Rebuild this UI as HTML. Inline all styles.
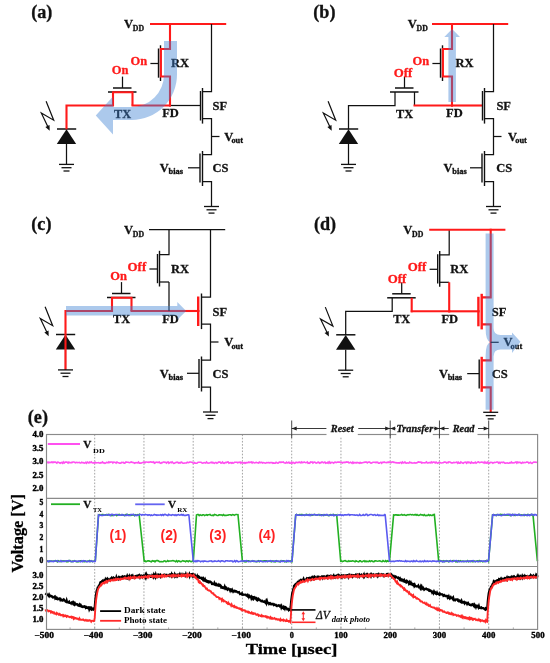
<!DOCTYPE html>
<html><head><meta charset="utf-8"><title>Pixel operation</title>
<style>html,body{margin:0;padding:0;background:#fff;}svg{display:block;}</style></head>
<body><svg width="550" height="663" viewBox="0 0 550 663">
<rect width="550" height="663" fill="#fff"/>
<text x="31.2" y="18.2" font-family="'Liberation Serif','DejaVu Serif',serif" font-size="18.2" font-weight="bold" font-style="normal" fill="#111" text-anchor="start" stroke="#111" stroke-width="0.3">(a)</text>
<text x="313.3" y="18.2" font-family="'Liberation Serif','DejaVu Serif',serif" font-size="18.2" font-weight="bold" font-style="normal" fill="#111" text-anchor="start" stroke="#111" stroke-width="0.3">(b)</text>
<text x="31.3" y="230.3" font-family="'Liberation Serif','DejaVu Serif',serif" font-size="18.2" font-weight="bold" font-style="normal" fill="#111" text-anchor="start" stroke="#111" stroke-width="0.3">(c)</text>
<text x="313.9" y="230.3" font-family="'Liberation Serif','DejaVu Serif',serif" font-size="18.2" font-weight="bold" font-style="normal" fill="#111" text-anchor="start" stroke="#111" stroke-width="0.3">(d)</text>
<text x="27.8" y="422.8" font-family="'Liberation Serif','DejaVu Serif',serif" font-size="18.2" font-weight="bold" font-style="normal" fill="#111" text-anchor="start" stroke="#111" stroke-width="0.3">(e)</text>
<text x="124" y="28.2" font-family="'Liberation Serif','DejaVu Serif',serif" font-size="12.6" font-weight="bold" font-style="normal" fill="#111" text-anchor="start" stroke="#111" stroke-width="0.3">V</text>
<text x="132.8" y="31.4" font-family="'Liberation Serif','DejaVu Serif',serif" font-size="7.8" font-weight="bold" font-style="normal" fill="#111" text-anchor="start" stroke="#111" stroke-width="0.3">DD</text>
<polyline points="46.1,101.3 53.7,120.2 41.3,113.1 48.6,128.3" fill="none" stroke="#111" stroke-width="1.2" stroke-linejoin="miter"/>
<polygon points="49.7,130.8 45.38,127.11 49.52,125.12" fill="#111"/>
<polygon points="66.5,129.2 56.8,143.9 76.2,143.9" fill="#111"/>
<line x1="57" y1="129" x2="76.2" y2="129" stroke="#111" stroke-width="1.5"/>
<line x1="66.5" y1="143.9" x2="66.5" y2="164.4" stroke="#111" stroke-width="1.25"/>
<line x1="59" y1="164.4" x2="74" y2="164.4" stroke="#111" stroke-width="1.3"/>
<line x1="61.5" y1="167.7" x2="71.5" y2="167.7" stroke="#111" stroke-width="1.3"/>
<line x1="63.5" y1="171" x2="69.5" y2="171" stroke="#111" stroke-width="1.3"/>
<line x1="122.5" y1="76.6" x2="122.5" y2="88" stroke="#111" stroke-width="1.25"/>
<line x1="113" y1="88" x2="131.5" y2="88" stroke="#111" stroke-width="1.5"/>
<line x1="108" y1="92" x2="136.5" y2="92" stroke="#111" stroke-width="1.5"/>
<polyline points="66.5,129.2 66.5,105.5 113,105.5 113,92.2 132.5,92.2 132.5,105.5" fill="none" stroke="#ff1a1a" stroke-width="2.1" stroke-linejoin="miter"/>
<line x1="131.5" y1="105.5" x2="171" y2="105.5" stroke="#ff1a1a" stroke-width="2.1"/>
<line x1="169" y1="105.5" x2="200.5" y2="105.5" stroke="#111" stroke-width="1.25"/>
<line x1="150.4" y1="63.5" x2="158.5" y2="63.5" stroke="#111" stroke-width="1.25"/>
<line x1="158.5" y1="48.5" x2="158.5" y2="77.7" stroke="#111" stroke-width="1.4"/>
<line x1="160.5" y1="45.3" x2="160.5" y2="81" stroke="#111" stroke-width="1.4"/>
<polyline points="170,23 170,49 160.9,49 160.9,76.5 170,76.5 170,106.5" fill="none" stroke="#ff1a1a" stroke-width="2.1" stroke-linejoin="miter"/>
<line x1="150" y1="24" x2="226.2" y2="24" stroke="#ff1a1a" stroke-width="2.1"/>
<line x1="200.5" y1="91" x2="200.5" y2="120.5" stroke="#111" stroke-width="1.4"/>
<line x1="202.5" y1="88" x2="202.5" y2="123.6" stroke="#111" stroke-width="1.4"/>
<polyline points="211.5,24 211.5,91.6 202.5,91.6" fill="none" stroke="#111" stroke-width="1.25" stroke-linejoin="miter"/>
<polyline points="202.5,118.6 211.5,118.6 211.5,154.6 202.5,154.6" fill="none" stroke="#111" stroke-width="1.25" stroke-linejoin="miter"/>
<polyline points="202.5,181.6 211.5,181.6 211.5,206.5" fill="none" stroke="#111" stroke-width="1.25" stroke-linejoin="miter"/>
<line x1="202.5" y1="151" x2="202.5" y2="186" stroke="#111" stroke-width="1.4"/>
<line x1="211.5" y1="136.5" x2="219.5" y2="136.5" stroke="#111" stroke-width="1.25"/>
<line x1="188" y1="167.8" x2="200" y2="167.8" stroke="#111" stroke-width="1.25"/>
<line x1="200" y1="153.6" x2="200" y2="182.6" stroke="#111" stroke-width="1.4"/>
<line x1="204" y1="206.5" x2="219" y2="206.5" stroke="#111" stroke-width="1.3"/>
<line x1="206.5" y1="209.8" x2="216.5" y2="209.8" stroke="#111" stroke-width="1.3"/>
<line x1="208.5" y1="213.1" x2="214.5" y2="213.1" stroke="#111" stroke-width="1.3"/>
<text x="224.2" y="140.5" font-family="'Liberation Serif','DejaVu Serif',serif" font-size="12.4" font-weight="bold" font-style="normal" fill="#111" text-anchor="start" stroke="#111" stroke-width="0.3">V</text>
<text x="231.4" y="143.1" font-family="'Liberation Serif','DejaVu Serif',serif" font-size="8.4" font-weight="bold" font-style="normal" fill="#111" text-anchor="start" stroke="#111" stroke-width="0.3">out</text>
<text x="159.8" y="172.2" font-family="'Liberation Serif','DejaVu Serif',serif" font-size="12.4" font-weight="bold" font-style="normal" fill="#111" text-anchor="start" stroke="#111" stroke-width="0.3">V</text>
<text x="168.5" y="174.4" font-family="'Liberation Serif','DejaVu Serif',serif" font-size="8.4" font-weight="bold" font-style="normal" fill="#111" text-anchor="start" stroke="#111" stroke-width="0.3">bias</text>
<text x="212.5" y="172.2" font-family="'Liberation Serif','DejaVu Serif',serif" font-size="12.5" font-weight="bold" font-style="normal" fill="#111" text-anchor="start" stroke="#111" stroke-width="0.3">CS</text>
<text x="212.6" y="110.2" font-family="'Liberation Serif','DejaVu Serif',serif" font-size="12.5" font-weight="bold" font-style="normal" fill="#111" text-anchor="start" stroke="#111" stroke-width="0.3">SF</text>
<text x="162.2" y="117.4" font-family="'Liberation Serif','DejaVu Serif',serif" font-size="12.5" font-weight="bold" font-style="normal" fill="#111" text-anchor="start" stroke="#111" stroke-width="0.3">FD</text>
<text x="122.5" y="117.6" font-family="'Liberation Serif','DejaVu Serif',serif" font-size="12.3" font-weight="bold" font-style="normal" fill="#111" text-anchor="middle" stroke="#111" stroke-width="0.3">TX</text>
<text x="171" y="67.4" font-family="'Liberation Serif','DejaVu Serif',serif" font-size="12.5" font-weight="bold" font-style="normal" fill="#111" text-anchor="start" stroke="#111" stroke-width="0.3">RX</text>
<text x="120.1" y="74.1" font-family="'Liberation Serif','DejaVu Serif',serif" font-size="12.5" font-weight="bold" font-style="normal" fill="#ff1a1a" text-anchor="middle" stroke="#ff1a1a" stroke-width="0.3">On</text>
<text x="147.2" y="65.1" font-family="'Liberation Serif','DejaVu Serif',serif" font-size="12.5" font-weight="bold" font-style="normal" fill="#ff1a1a" text-anchor="end" stroke="#ff1a1a" stroke-width="0.3">On</text>
<text x="407.8" y="28.2" font-family="'Liberation Serif','DejaVu Serif',serif" font-size="12.6" font-weight="bold" font-style="normal" fill="#111" text-anchor="start" stroke="#111" stroke-width="0.3">V</text>
<text x="416.6" y="31.4" font-family="'Liberation Serif','DejaVu Serif',serif" font-size="7.8" font-weight="bold" font-style="normal" fill="#111" text-anchor="start" stroke="#111" stroke-width="0.3">DD</text>
<polyline points="328.1,101.3 335.7,120.2 323.3,113.1 330.6,128.3" fill="none" stroke="#111" stroke-width="1.2" stroke-linejoin="miter"/>
<polygon points="331.7,130.8 327.38,127.11 331.52,125.12" fill="#111"/>
<polygon points="348.5,129.2 338.8,143.9 358.2,143.9" fill="#111"/>
<line x1="339" y1="129" x2="358.2" y2="129" stroke="#111" stroke-width="1.5"/>
<line x1="348.5" y1="143.9" x2="348.5" y2="164.4" stroke="#111" stroke-width="1.25"/>
<line x1="341" y1="164.4" x2="356" y2="164.4" stroke="#111" stroke-width="1.3"/>
<line x1="343.5" y1="167.7" x2="353.5" y2="167.7" stroke="#111" stroke-width="1.3"/>
<line x1="345.5" y1="171" x2="351.5" y2="171" stroke="#111" stroke-width="1.3"/>
<line x1="404.5" y1="76.6" x2="404.5" y2="88" stroke="#111" stroke-width="1.25"/>
<line x1="395" y1="88" x2="413.5" y2="88" stroke="#111" stroke-width="1.5"/>
<line x1="390" y1="92" x2="418.5" y2="92" stroke="#111" stroke-width="1.5"/>
<polyline points="348.5,129.2 348.5,105.5 395,105.5 395,92" fill="none" stroke="#111" stroke-width="1.25" stroke-linejoin="miter"/>
<line x1="414.5" y1="92" x2="414.5" y2="105.5" stroke="#111" stroke-width="1.25"/>
<line x1="413.5" y1="105.5" x2="453" y2="105.5" stroke="#ff1a1a" stroke-width="2.1"/>
<line x1="451" y1="105.5" x2="482.5" y2="105.5" stroke="#ff1a1a" stroke-width="2.1"/>
<line x1="432.4" y1="63.5" x2="440.5" y2="63.5" stroke="#111" stroke-width="1.25"/>
<line x1="440.5" y1="48.5" x2="440.5" y2="77.7" stroke="#111" stroke-width="1.4"/>
<line x1="442.5" y1="45.3" x2="442.5" y2="81" stroke="#111" stroke-width="1.4"/>
<polyline points="452,23 452,49 442.9,49 442.9,76.5 452,76.5 452,106.5" fill="none" stroke="#ff1a1a" stroke-width="2.1" stroke-linejoin="miter"/>
<line x1="432" y1="24" x2="508.2" y2="24" stroke="#ff1a1a" stroke-width="2.1"/>
<line x1="482.5" y1="91" x2="482.5" y2="120.5" stroke="#111" stroke-width="1.4"/>
<line x1="484.5" y1="88" x2="484.5" y2="123.6" stroke="#111" stroke-width="1.4"/>
<polyline points="493.5,24 493.5,91.6 484.5,91.6" fill="none" stroke="#111" stroke-width="1.25" stroke-linejoin="miter"/>
<polyline points="484.5,118.6 493.5,118.6 493.5,154.6 484.5,154.6" fill="none" stroke="#111" stroke-width="1.25" stroke-linejoin="miter"/>
<polyline points="484.5,181.6 493.5,181.6 493.5,206.5" fill="none" stroke="#111" stroke-width="1.25" stroke-linejoin="miter"/>
<line x1="484.5" y1="151" x2="484.5" y2="186" stroke="#111" stroke-width="1.4"/>
<line x1="493.5" y1="136.5" x2="501.5" y2="136.5" stroke="#111" stroke-width="1.25"/>
<line x1="470" y1="167.8" x2="482" y2="167.8" stroke="#111" stroke-width="1.25"/>
<line x1="482" y1="153.6" x2="482" y2="182.6" stroke="#111" stroke-width="1.4"/>
<line x1="486" y1="206.5" x2="501" y2="206.5" stroke="#111" stroke-width="1.3"/>
<line x1="488.5" y1="209.8" x2="498.5" y2="209.8" stroke="#111" stroke-width="1.3"/>
<line x1="490.5" y1="213.1" x2="496.5" y2="213.1" stroke="#111" stroke-width="1.3"/>
<text x="508" y="140.5" font-family="'Liberation Serif','DejaVu Serif',serif" font-size="12.4" font-weight="bold" font-style="normal" fill="#111" text-anchor="start" stroke="#111" stroke-width="0.3">V</text>
<text x="515.2" y="143.1" font-family="'Liberation Serif','DejaVu Serif',serif" font-size="8.4" font-weight="bold" font-style="normal" fill="#111" text-anchor="start" stroke="#111" stroke-width="0.3">out</text>
<text x="443.6" y="172.2" font-family="'Liberation Serif','DejaVu Serif',serif" font-size="12.4" font-weight="bold" font-style="normal" fill="#111" text-anchor="start" stroke="#111" stroke-width="0.3">V</text>
<text x="452.3" y="174.4" font-family="'Liberation Serif','DejaVu Serif',serif" font-size="8.4" font-weight="bold" font-style="normal" fill="#111" text-anchor="start" stroke="#111" stroke-width="0.3">bias</text>
<text x="496.3" y="172.2" font-family="'Liberation Serif','DejaVu Serif',serif" font-size="12.5" font-weight="bold" font-style="normal" fill="#111" text-anchor="start" stroke="#111" stroke-width="0.3">CS</text>
<text x="496.4" y="110.2" font-family="'Liberation Serif','DejaVu Serif',serif" font-size="12.5" font-weight="bold" font-style="normal" fill="#111" text-anchor="start" stroke="#111" stroke-width="0.3">SF</text>
<text x="446" y="117.4" font-family="'Liberation Serif','DejaVu Serif',serif" font-size="12.5" font-weight="bold" font-style="normal" fill="#111" text-anchor="start" stroke="#111" stroke-width="0.3">FD</text>
<text x="404.5" y="117.6" font-family="'Liberation Serif','DejaVu Serif',serif" font-size="12.3" font-weight="bold" font-style="normal" fill="#111" text-anchor="middle" stroke="#111" stroke-width="0.3">TX</text>
<text x="455.5" y="67.4" font-family="'Liberation Serif','DejaVu Serif',serif" font-size="12.5" font-weight="bold" font-style="normal" fill="#111" text-anchor="start" stroke="#111" stroke-width="0.3">RX</text>
<text x="403" y="76.7" font-family="'Liberation Serif','DejaVu Serif',serif" font-size="12.9" font-weight="bold" font-style="normal" fill="#ff1a1a" text-anchor="middle" stroke="#ff1a1a" stroke-width="0.3">Off</text>
<text x="429.2" y="65.1" font-family="'Liberation Serif','DejaVu Serif',serif" font-size="12.5" font-weight="bold" font-style="normal" fill="#ff1a1a" text-anchor="end" stroke="#ff1a1a" stroke-width="0.3">On</text>
<text x="124" y="233.7" font-family="'Liberation Serif','DejaVu Serif',serif" font-size="12.6" font-weight="bold" font-style="normal" fill="#111" text-anchor="start" stroke="#111" stroke-width="0.3">V</text>
<text x="132.8" y="236.9" font-family="'Liberation Serif','DejaVu Serif',serif" font-size="7.8" font-weight="bold" font-style="normal" fill="#111" text-anchor="start" stroke="#111" stroke-width="0.3">DD</text>
<polyline points="45.1,306.8 52.7,325.7 40.3,318.6 47.6,333.8" fill="none" stroke="#111" stroke-width="1.2" stroke-linejoin="miter"/>
<polygon points="48.7,336.3 44.38,332.61 48.52,330.62" fill="#111"/>
<polygon points="65.5,334.7 55.8,349.4 75.2,349.4" fill="#111"/>
<line x1="56" y1="334.5" x2="75.2" y2="334.5" stroke="#111" stroke-width="1.5"/>
<line x1="65.5" y1="349.4" x2="65.5" y2="369.9" stroke="#111" stroke-width="1.25"/>
<line x1="65.5" y1="334.5" x2="65.5" y2="369.9" stroke="#ff1a1a" stroke-width="2.1"/>
<line x1="58" y1="369.9" x2="73" y2="369.9" stroke="#111" stroke-width="1.3"/>
<line x1="60.5" y1="373.2" x2="70.5" y2="373.2" stroke="#111" stroke-width="1.3"/>
<line x1="62.5" y1="376.5" x2="68.5" y2="376.5" stroke="#111" stroke-width="1.3"/>
<line x1="121.5" y1="282.1" x2="121.5" y2="293.5" stroke="#111" stroke-width="1.25"/>
<line x1="112" y1="293.5" x2="130.5" y2="293.5" stroke="#111" stroke-width="1.5"/>
<line x1="107" y1="297.5" x2="135.5" y2="297.5" stroke="#111" stroke-width="1.5"/>
<polyline points="65.5,334.7 65.5,311 112,311 112,297.7 131.5,297.7 131.5,311" fill="none" stroke="#ff1a1a" stroke-width="2.1" stroke-linejoin="miter"/>
<line x1="130.5" y1="311" x2="170" y2="311" stroke="#ff1a1a" stroke-width="2.1"/>
<line x1="168" y1="311" x2="199.5" y2="311" stroke="#ff1a1a" stroke-width="2.1"/>
<line x1="149.4" y1="269" x2="157.5" y2="269" stroke="#111" stroke-width="1.25"/>
<line x1="157.5" y1="254" x2="157.5" y2="283.2" stroke="#111" stroke-width="1.4"/>
<line x1="159.5" y1="250.8" x2="159.5" y2="286.5" stroke="#111" stroke-width="1.4"/>
<polyline points="169,229.5 169,254.5 159.5,254.5" fill="none" stroke="#111" stroke-width="1.25" stroke-linejoin="miter"/>
<polyline points="159.5,282 169,282" fill="none" stroke="#111" stroke-width="1.25" stroke-linejoin="miter"/>
<line x1="169" y1="282" x2="169" y2="311" stroke="#111" stroke-width="1.25"/>
<line x1="149" y1="229.5" x2="225.2" y2="229.5" stroke="#111" stroke-width="1.25"/>
<line x1="198.2" y1="296.5" x2="198.2" y2="326" stroke="#ff1a1a" stroke-width="2.4"/>
<line x1="201.5" y1="293.5" x2="201.5" y2="329.1" stroke="#111" stroke-width="1.4"/>
<polyline points="210.5,229.5 210.5,297.1 201.5,297.1" fill="none" stroke="#111" stroke-width="1.25" stroke-linejoin="miter"/>
<polyline points="201.5,324.1 210.5,324.1 210.5,360.1 201.5,360.1" fill="none" stroke="#111" stroke-width="1.25" stroke-linejoin="miter"/>
<polyline points="201.5,387.1 210.5,387.1 210.5,412" fill="none" stroke="#111" stroke-width="1.25" stroke-linejoin="miter"/>
<line x1="201.5" y1="356.5" x2="201.5" y2="391.5" stroke="#111" stroke-width="1.4"/>
<line x1="210.5" y1="342" x2="218.5" y2="342" stroke="#111" stroke-width="1.25"/>
<line x1="187" y1="373.3" x2="199" y2="373.3" stroke="#111" stroke-width="1.25"/>
<line x1="199" y1="359.1" x2="199" y2="388.1" stroke="#111" stroke-width="1.4"/>
<line x1="203" y1="412" x2="218" y2="412" stroke="#111" stroke-width="1.3"/>
<line x1="205.5" y1="415.3" x2="215.5" y2="415.3" stroke="#111" stroke-width="1.3"/>
<line x1="207.5" y1="418.6" x2="213.5" y2="418.6" stroke="#111" stroke-width="1.3"/>
<text x="224.2" y="346" font-family="'Liberation Serif','DejaVu Serif',serif" font-size="12.4" font-weight="bold" font-style="normal" fill="#111" text-anchor="start" stroke="#111" stroke-width="0.3">V</text>
<text x="231.4" y="348.6" font-family="'Liberation Serif','DejaVu Serif',serif" font-size="8.4" font-weight="bold" font-style="normal" fill="#111" text-anchor="start" stroke="#111" stroke-width="0.3">out</text>
<text x="159.8" y="377.7" font-family="'Liberation Serif','DejaVu Serif',serif" font-size="12.4" font-weight="bold" font-style="normal" fill="#111" text-anchor="start" stroke="#111" stroke-width="0.3">V</text>
<text x="168.5" y="379.9" font-family="'Liberation Serif','DejaVu Serif',serif" font-size="8.4" font-weight="bold" font-style="normal" fill="#111" text-anchor="start" stroke="#111" stroke-width="0.3">bias</text>
<text x="212.5" y="377.7" font-family="'Liberation Serif','DejaVu Serif',serif" font-size="12.5" font-weight="bold" font-style="normal" fill="#111" text-anchor="start" stroke="#111" stroke-width="0.3">CS</text>
<text x="212.6" y="315.7" font-family="'Liberation Serif','DejaVu Serif',serif" font-size="12.5" font-weight="bold" font-style="normal" fill="#111" text-anchor="start" stroke="#111" stroke-width="0.3">SF</text>
<text x="162.2" y="322.9" font-family="'Liberation Serif','DejaVu Serif',serif" font-size="12.5" font-weight="bold" font-style="normal" fill="#111" text-anchor="start" stroke="#111" stroke-width="0.3">FD</text>
<text x="121.5" y="323.1" font-family="'Liberation Serif','DejaVu Serif',serif" font-size="12.3" font-weight="bold" font-style="normal" fill="#111" text-anchor="middle" stroke="#111" stroke-width="0.3">TX</text>
<text x="171" y="272.9" font-family="'Liberation Serif','DejaVu Serif',serif" font-size="12.5" font-weight="bold" font-style="normal" fill="#111" text-anchor="start" stroke="#111" stroke-width="0.3">RX</text>
<text x="118.7" y="279.6" font-family="'Liberation Serif','DejaVu Serif',serif" font-size="12.5" font-weight="bold" font-style="normal" fill="#ff1a1a" text-anchor="middle" stroke="#ff1a1a" stroke-width="0.3">On</text>
<text x="146.2" y="270.6" font-family="'Liberation Serif','DejaVu Serif',serif" font-size="12.9" font-weight="bold" font-style="normal" fill="#ff1a1a" text-anchor="end" stroke="#ff1a1a" stroke-width="0.3">Off</text>
<text x="403.2" y="234" font-family="'Liberation Serif','DejaVu Serif',serif" font-size="12.6" font-weight="bold" font-style="normal" fill="#111" text-anchor="start" stroke="#111" stroke-width="0.3">V</text>
<text x="412" y="237.2" font-family="'Liberation Serif','DejaVu Serif',serif" font-size="7.8" font-weight="bold" font-style="normal" fill="#111" text-anchor="start" stroke="#111" stroke-width="0.3">DD</text>
<polyline points="325.3,307.1 332.9,326 320.5,318.9 327.8,334.1" fill="none" stroke="#111" stroke-width="1.2" stroke-linejoin="miter"/>
<polygon points="328.9,336.6 324.58,332.91 328.72,330.92" fill="#111"/>
<polygon points="345.7,335 336,349.7 355.4,349.7" fill="#111"/>
<line x1="336.2" y1="334.8" x2="355.4" y2="334.8" stroke="#111" stroke-width="1.5"/>
<line x1="345.7" y1="349.7" x2="345.7" y2="370.2" stroke="#111" stroke-width="1.25"/>
<line x1="338.2" y1="370.2" x2="353.2" y2="370.2" stroke="#111" stroke-width="1.3"/>
<line x1="340.7" y1="373.5" x2="350.7" y2="373.5" stroke="#111" stroke-width="1.3"/>
<line x1="342.7" y1="376.8" x2="348.7" y2="376.8" stroke="#111" stroke-width="1.3"/>
<line x1="401.7" y1="282.4" x2="401.7" y2="293.8" stroke="#111" stroke-width="1.25"/>
<line x1="392.2" y1="293.8" x2="410.7" y2="293.8" stroke="#111" stroke-width="1.5"/>
<line x1="387.2" y1="297.8" x2="415.7" y2="297.8" stroke="#111" stroke-width="1.5"/>
<polyline points="345.7,335 345.7,311.3 392.2,311.3 392.2,297.8" fill="none" stroke="#111" stroke-width="1.25" stroke-linejoin="miter"/>
<line x1="411.7" y1="297.8" x2="411.7" y2="312.3" stroke="#ff1a1a" stroke-width="2.1"/>
<line x1="410.7" y1="311.3" x2="450.2" y2="311.3" stroke="#ff1a1a" stroke-width="2.1"/>
<line x1="448.2" y1="311.3" x2="479.7" y2="311.3" stroke="#ff1a1a" stroke-width="2.1"/>
<line x1="429.6" y1="269.3" x2="437.7" y2="269.3" stroke="#111" stroke-width="1.25"/>
<line x1="437.7" y1="254.3" x2="437.7" y2="283.5" stroke="#111" stroke-width="1.4"/>
<line x1="439.7" y1="251.1" x2="439.7" y2="286.8" stroke="#111" stroke-width="1.4"/>
<polyline points="449.2,229.8 449.2,254.8 439.7,254.8" fill="none" stroke="#111" stroke-width="1.25" stroke-linejoin="miter"/>
<polyline points="439.7,282.3 449.2,282.3" fill="none" stroke="#111" stroke-width="1.25" stroke-linejoin="miter"/>
<line x1="449.2" y1="282.3" x2="449.2" y2="312.3" stroke="#ff1a1a" stroke-width="2.1"/>
<line x1="429.2" y1="229.8" x2="505.4" y2="229.8" stroke="#ff1a1a" stroke-width="2.1"/>
<line x1="478.4" y1="296.8" x2="478.4" y2="326.3" stroke="#ff1a1a" stroke-width="2.4"/>
<line x1="481.7" y1="293.8" x2="481.7" y2="329.4" stroke="#ff1a1a" stroke-width="2.4"/>
<polyline points="490.7,228.8 490.7,297.4 481.7,297.4" fill="none" stroke="#ff1a1a" stroke-width="2.1" stroke-linejoin="miter"/>
<polyline points="481.7,324.4 490.7,324.4 490.7,360.4 481.7,360.4" fill="none" stroke="#ff1a1a" stroke-width="2.1" stroke-linejoin="miter"/>
<polyline points="481.7,387.4 490.7,387.4 490.7,412.3" fill="none" stroke="#ff1a1a" stroke-width="2.1" stroke-linejoin="miter"/>
<line x1="481.7" y1="356.8" x2="481.7" y2="391.8" stroke="#ff1a1a" stroke-width="2.4"/>
<line x1="490.7" y1="342.3" x2="498.7" y2="342.3" stroke="#111" stroke-width="1.25"/>
<line x1="467.2" y1="373.6" x2="479.2" y2="373.6" stroke="#111" stroke-width="1.25"/>
<line x1="479.2" y1="359.4" x2="479.2" y2="388.4" stroke="#111" stroke-width="1.4"/>
<line x1="483.2" y1="412.3" x2="498.2" y2="412.3" stroke="#111" stroke-width="1.3"/>
<line x1="485.7" y1="415.6" x2="495.7" y2="415.6" stroke="#111" stroke-width="1.3"/>
<line x1="487.7" y1="418.9" x2="493.7" y2="418.9" stroke="#111" stroke-width="1.3"/>
<text x="503.4" y="346.3" font-family="'Liberation Serif','DejaVu Serif',serif" font-size="12.4" font-weight="bold" font-style="normal" fill="#111" text-anchor="start" stroke="#111" stroke-width="0.3">V</text>
<text x="510.6" y="348.9" font-family="'Liberation Serif','DejaVu Serif',serif" font-size="8.4" font-weight="bold" font-style="normal" fill="#111" text-anchor="start" stroke="#111" stroke-width="0.3">out</text>
<text x="439" y="378" font-family="'Liberation Serif','DejaVu Serif',serif" font-size="12.4" font-weight="bold" font-style="normal" fill="#111" text-anchor="start" stroke="#111" stroke-width="0.3">V</text>
<text x="447.7" y="380.2" font-family="'Liberation Serif','DejaVu Serif',serif" font-size="8.4" font-weight="bold" font-style="normal" fill="#111" text-anchor="start" stroke="#111" stroke-width="0.3">bias</text>
<text x="491.7" y="378" font-family="'Liberation Serif','DejaVu Serif',serif" font-size="12.5" font-weight="bold" font-style="normal" fill="#111" text-anchor="start" stroke="#111" stroke-width="0.3">CS</text>
<text x="491.8" y="316" font-family="'Liberation Serif','DejaVu Serif',serif" font-size="12.5" font-weight="bold" font-style="normal" fill="#111" text-anchor="start" stroke="#111" stroke-width="0.3">SF</text>
<text x="441.4" y="323.2" font-family="'Liberation Serif','DejaVu Serif',serif" font-size="12.5" font-weight="bold" font-style="normal" fill="#111" text-anchor="start" stroke="#111" stroke-width="0.3">FD</text>
<text x="401.7" y="323.4" font-family="'Liberation Serif','DejaVu Serif',serif" font-size="12.3" font-weight="bold" font-style="normal" fill="#111" text-anchor="middle" stroke="#111" stroke-width="0.3">TX</text>
<text x="450.2" y="273.2" font-family="'Liberation Serif','DejaVu Serif',serif" font-size="12.5" font-weight="bold" font-style="normal" fill="#111" text-anchor="start" stroke="#111" stroke-width="0.3">RX</text>
<text x="397" y="282.5" font-family="'Liberation Serif','DejaVu Serif',serif" font-size="12.9" font-weight="bold" font-style="normal" fill="#ff1a1a" text-anchor="middle" stroke="#ff1a1a" stroke-width="0.3">Off</text>
<text x="426.4" y="270.9" font-family="'Liberation Serif','DejaVu Serif',serif" font-size="12.9" font-weight="bold" font-style="normal" fill="#ff1a1a" text-anchor="end" stroke="#ff1a1a" stroke-width="0.3">Off</text>
<path d="M164,41 L177,41 L177,74.5 A45.5,45.5 0 0 1 131.5,120.0 L113,120.0 L113,134.4 L95.8,115.5 L112.5,97 L113,107.0 L131.5,107.0 A32.5,32.5 0 0 0 164,74.5 Z" fill="rgb(63,129,210)" fill-opacity="0.43"/>
<path d="M448.4,102 L455.9,102 L455.9,37 L460,37 L452.1,29 L444.3,37 L448.4,37 Z" fill="rgb(63,129,210)" fill-opacity="0.43"/>
<path d="M66,306 L177.3,306 L177.3,302 L186.2,311 L177.3,319.8 L177.3,315.5 L66,315.5 Z" fill="rgb(63,129,210)" fill-opacity="0.43"/>
<path d="M485.6,233.4 L493.6,233.4 L493.6,328 Q493.6,335 500.5,335 L512,335 L512,332.5 L520.5,341.8 L512,353 L512,349.5 L500.5,349.5 Q493.6,349.5 493.6,356.5 L493.6,409.8 L485.6,409.8 L485.6,356 Q485.6,343 490.5,342.2 Q485.6,341.4 485.6,328 Z" fill="rgb(63,129,210)" fill-opacity="0.43"/>
<line x1="94.7" y1="434.5" x2="94.7" y2="629.4" stroke="#9a9a9a" stroke-width="0.9" stroke-dasharray="1.6,1.6"/>
<line x1="143.95" y1="434.5" x2="143.95" y2="629.4" stroke="#9a9a9a" stroke-width="0.9" stroke-dasharray="1.6,1.6"/>
<line x1="193.2" y1="434.5" x2="193.2" y2="629.4" stroke="#9a9a9a" stroke-width="0.9" stroke-dasharray="1.6,1.6"/>
<line x1="242.45" y1="434.5" x2="242.45" y2="629.4" stroke="#9a9a9a" stroke-width="0.9" stroke-dasharray="1.6,1.6"/>
<line x1="291.7" y1="434.5" x2="291.7" y2="629.4" stroke="#9a9a9a" stroke-width="0.9" stroke-dasharray="1.6,1.6"/>
<line x1="340.95" y1="434.5" x2="340.95" y2="629.4" stroke="#9a9a9a" stroke-width="0.9" stroke-dasharray="1.6,1.6"/>
<line x1="390.2" y1="434.5" x2="390.2" y2="629.4" stroke="#9a9a9a" stroke-width="0.9" stroke-dasharray="1.6,1.6"/>
<line x1="439.45" y1="434.5" x2="439.45" y2="629.4" stroke="#9a9a9a" stroke-width="0.9" stroke-dasharray="1.6,1.6"/>
<line x1="488.7" y1="434.5" x2="488.7" y2="629.4" stroke="#9a9a9a" stroke-width="0.9" stroke-dasharray="1.6,1.6"/>
<polyline points="46.5,462.35 47.3,462.11 48.1,462.81 48.9,462 49.7,462.65 50.5,462.41 51.3,461.98 52.1,462.61 52.9,461.95 53.7,462.51 54.5,462 55.3,462.03 56.1,462.49 56.9,463.06 57.7,462.07 58.5,462.21 59.3,462.78 60.1,463.23 60.9,462.71 61.7,462.46 62.5,463.27 63.3,461.97 64.1,463.1 64.9,462.31 65.7,462.1 66.5,462.06 67.3,462.33 68.1,463.04 68.9,462.15 69.7,462.71 70.5,462.79 71.3,462.42 72.1,462.67 72.9,461.99 73.7,461.98 74.5,462.19 75.3,462.85 76.1,462.5 76.9,462.34 77.7,462.72 78.5,462.53 79.3,462.32 80.1,463.01 80.9,462.88 81.7,462.24 82.5,462.7 83.3,462.64 84.1,463.13 84.9,462.92 85.7,462.3 86.5,463.27 87.3,462.07 88.1,462.49 88.9,462.96 89.7,462.11 90.5,462.58 91.3,461.95 92.1,462.84 92.9,462.97 93.7,462.7 94.5,463.13 95.3,462.34 96.1,462.87 96.9,462.73 97.7,462.71 98.5,462.54 99.3,463.08 100.1,463.22 100.9,462.56 101.7,462.83 102.5,461.98 103.3,462.88 104.1,462.81 104.9,463.29 105.7,463.05 106.5,462.3 107.3,462.44 108.1,462.84 108.9,461.93 109.7,462.55 110.5,462.14 111.3,462.06 112.1,461.98 112.9,462.98 113.7,462.08 114.5,462.25 115.3,462.45 116.1,463.12 116.9,462.01 117.7,462.53 118.5,462.67 119.3,463.14 120.1,463.05 120.9,463.11 121.7,462.29 122.5,462.48 123.3,462.4 124.1,463.14 124.9,463.24 125.7,462.11 126.5,462.15 127.3,462.22 128.1,462.23 128.9,462.58 129.7,462.72 130.5,462.27 131.3,461.91 132.1,462.49 132.9,462.42 133.7,462.69 134.5,463.23 135.3,462.87 136.1,462.62 136.9,462.76 137.7,462.85 138.5,461.98 139.3,463.16 140.1,462.99 140.9,463.12 141.7,463.02 142.5,462.45 143.3,462.46 144.1,462.04 144.9,462.79 145.7,461.99 146.5,461.99 147.3,462.19 148.1,462.13 148.9,462.38 149.7,461.97 150.5,461.9 151.3,462.11 152.1,462.04 152.9,462.41 153.7,461.94 154.5,463.12 155.3,462.76 156.1,462.11 156.9,462.25 157.7,462.39 158.5,462.41 159.3,462.07 160.1,463.09 160.9,463.29 161.7,462.55 162.5,462.58 163.3,462.02 164.1,462.04 164.9,462.38 165.7,462.27 166.5,463.06 167.3,462.13 168.1,461.93 168.9,463.23 169.7,462.64 170.5,462.11 171.3,462.66 172.1,461.94 172.9,462.64 173.7,463.27 174.5,463.11 175.3,462.87 176.1,462.27 176.9,462.41 177.7,462.13 178.5,462.98 179.3,462.65 180.1,462.99 180.9,462.36 181.7,462.21 182.5,463.04 183.3,463.28 184.1,463.09 184.9,463.03 185.7,463.05 186.5,462.94 187.3,462.22 188.1,462.62 188.9,462.4 189.7,461.94 190.5,461.94 191.3,462.29 192.1,462.26 192.9,462.87 193.7,463.24 194.5,462.53 195.3,463.21 196.1,463.28 196.9,463.24 197.7,462.41 198.5,462.21 199.3,462.22 200.1,462.18 200.9,462.19 201.7,462.77 202.5,463.16 203.3,463.08 204.1,462.57 204.9,462.81 205.7,463.02 206.5,462.02 207.3,462.82 208.1,463.17 208.9,463 209.7,462.95 210.5,462.57 211.3,462.15 212.1,463 212.9,462.37 213.7,463.02 214.5,463.26 215.3,462.45 216.1,462.46 216.9,463.23 217.7,462.91 218.5,462.14 219.3,462.08 220.1,462.11 220.9,463.17 221.7,463.03 222.5,462.1 223.3,463.06 224.1,463.27 224.9,462.82 225.7,462.39 226.5,462.67 227.3,462.08 228.1,461.92 228.9,463.26 229.7,462.81 230.5,462.64 231.3,463.21 232.1,462.51 232.9,463.12 233.7,463.06 234.5,462.2 235.3,462.25 236.1,462.31 236.9,462.24 237.7,462.72 238.5,462.26 239.3,462.49 240.1,462.08 240.9,463.17 241.7,462.4 242.5,462.54 243.3,462.72 244.1,463.17 244.9,462.49 245.7,463.18 246.5,462.6 247.3,462.64 248.1,462.63 248.9,461.93 249.7,462.52 250.5,462.16 251.3,461.91 252.1,463.02 252.9,462.14 253.7,462.56 254.5,462.92 255.3,462.68 256.1,462.36 256.9,462.63 257.7,462.68 258.5,463 259.3,462.05 260.1,462.68 260.9,462.25 261.7,462.29 262.5,462.98 263.3,462.61 264.1,462.69 264.9,462.96 265.7,463.18 266.5,462.52 267.3,462.76 268.1,462.61 268.9,462.62 269.7,462.87 270.5,462.53 271.3,462.65 272.1,462.57 272.9,463.22 273.7,462.88 274.5,463.13 275.3,463.22 276.1,462.26 276.9,462.68 277.7,463.22 278.5,463.08 279.3,462.09 280.1,462.07 280.9,462.52 281.7,462 282.5,462.24 283.3,462 284.1,462.84 284.9,463 285.7,463.16 286.5,462.12 287.3,462.9 288.1,462.82 288.9,462.1 289.7,463.14 290.5,463.25 291.3,462.21 292.1,463.23 292.9,462.46 293.7,462.58 294.5,463.29 295.3,463.07 296.1,462.13 296.9,462.5 297.7,462.62 298.5,462.37 299.3,462.17 300.1,462.35 300.9,462.91 301.7,461.93 302.5,462.68 303.3,462.52 304.1,461.93 304.9,462.36 305.7,462.77 306.5,462.62 307.3,461.99 308.1,463.28 308.9,463 309.7,463.26 310.5,462.05 311.3,462.27 312.1,461.96 312.9,462.99 313.7,462.28 314.5,462.08 315.3,462.49 316.1,463.18 316.9,463.05 317.7,462.26 318.5,462.11 319.3,463.19 320.1,462.7 320.9,462.88 321.7,462.03 322.5,461.98 323.3,462.86 324.1,462.5 324.9,462 325.7,463.21 326.5,462.79 327.3,463.02 328.1,462.02 328.9,463.1 329.7,461.99 330.5,463.11 331.3,462.54 332.1,462.37 332.9,462.67 333.7,463.2 334.5,462.28 335.3,462.08 336.1,462.64 336.9,462.23 337.7,462.05 338.5,462.13 339.3,461.97 340.1,462.18 340.9,462.34 341.7,462.33 342.5,462.96 343.3,462.31 344.1,462.6 344.9,462.15 345.7,462.39 346.5,461.93 347.3,462.25 348.1,461.92 348.9,462.93 349.7,462.67 350.5,462.17 351.3,462.56 352.1,463.21 352.9,462.05 353.7,463.05 354.5,462.51 355.3,462.59 356.1,463.07 356.9,462.45 357.7,462.61 358.5,462.86 359.3,463.28 360.1,462.38 360.9,463.07 361.7,462.89 362.5,462.79 363.3,462.47 364.1,462.39 364.9,461.98 365.7,462.08 366.5,462 367.3,462.94 368.1,462.26 368.9,462.13 369.7,462.02 370.5,463.08 371.3,463.12 372.1,462.84 372.9,462.29 373.7,462.24 374.5,462.31 375.3,462.54 376.1,462.12 376.9,462.52 377.7,462.27 378.5,463.25 379.3,463.26 380.1,462.67 380.9,462.24 381.7,463.25 382.5,462.33 383.3,462.4 384.1,461.9 384.9,462.43 385.7,462.56 386.5,462.6 387.3,462.18 388.1,462.61 388.9,461.91 389.7,462.27 390.5,462.03 391.3,462.46 392.1,461.96 392.9,461.93 393.7,462.33 394.5,462.23 395.3,462.72 396.1,462.64 396.9,462.95 397.7,462.82 398.5,462.9 399.3,463.13 400.1,462.45 400.9,462.36 401.7,463.28 402.5,462.11 403.3,462.91 404.1,462.8 404.9,461.96 405.7,463.07 406.5,463.15 407.3,462.78 408.1,462.93 408.9,463.04 409.7,462.1 410.5,462.63 411.3,462.61 412.1,463.07 412.9,463.03 413.7,463.06 414.5,462.72 415.3,463.15 416.1,462.86 416.9,462.87 417.7,462.22 418.5,461.94 419.3,462.09 420.1,462.4 420.9,462.05 421.7,463.07 422.5,462.68 423.3,462.78 424.1,462.78 424.9,462.85 425.7,462.59 426.5,461.9 427.3,463.02 428.1,462.95 428.9,462.6 429.7,462.65 430.5,462.82 431.3,461.99 432.1,462.93 432.9,462.25 433.7,462 434.5,462.27 435.3,462.92 436.1,462.19 436.9,462.94 437.7,463.27 438.5,462.59 439.3,462.44 440.1,462.57 440.9,462.86 441.7,462.97 442.5,462.76 443.3,462.8 444.1,462.01 444.9,462.11 445.7,462.26 446.5,462.94 447.3,462.33 448.1,462.69 448.9,461.92 449.7,461.98 450.5,462.28 451.3,462.84 452.1,462.87 452.9,462.85 453.7,462.31 454.5,462.62 455.3,462.55 456.1,462.55 456.9,462.07 457.7,463.15 458.5,462.18 459.3,463.27 460.1,463.21 460.9,461.92 461.7,462.54 462.5,463.05 463.3,463.26 464.1,462.53 464.9,462.28 465.7,462.19 466.5,463.22 467.3,462.19 468.1,462.71 468.9,462.1 469.7,462.63 470.5,463.23 471.3,462.09 472.1,463.05 472.9,462.61 473.7,463.14 474.5,462.88 475.3,462.22 476.1,463.16 476.9,462.58 477.7,461.93 478.5,461.91 479.3,462.59 480.1,462.53 480.9,462.32 481.7,462.1 482.5,462.38 483.3,462.34 484.1,463.08 484.9,461.9 485.7,462.95 486.5,463.07 487.3,462.07 488.1,463.2 488.9,462.9 489.7,463.16 490.5,462.31 491.3,462.42 492.1,462.45 492.9,463.3 493.7,462.72 494.5,462.4 495.3,462.5 496.1,462.29 496.9,461.97 497.7,462.04 498.5,463.07 499.3,462.3 500.1,463.21 500.9,462.25 501.7,462.27 502.5,462.62 503.3,462.17 504.1,462.42 504.9,463.24 505.7,463.14 506.5,463.04 507.3,462.78 508.1,463.18 508.9,463.22 509.7,462.67 510.5,462.91 511.3,461.97 512.1,462.93 512.9,462.53 513.7,462.95 514.5,462.8 515.3,462.3 516.1,461.97 516.9,463.2 517.7,462.08 518.5,462.56 519.3,462.38 520.1,462.32 520.9,462.93 521.7,463.27 522.5,462.26 523.3,462.82 524.1,462.32 524.9,462.68 525.7,462.45 526.5,462.13 527.3,462.13 528.1,462.19 528.9,463.17 529.7,462.6 530.5,462.21 531.3,463.17 532.1,463.3 532.9,462.53 533.7,462.1 534.5,462.17 535.3,462.03 536.1,462.38 536.9,462.03" fill="none" stroke="#ff50f0" stroke-width="1.6" stroke-linejoin="miter"/>
<polyline points="46.5,560.89 47.4,560.91 48.3,561.28 49.2,561.66 50.1,561.5 51,561.1 51.9,561.1 52.8,561.23 53.7,561.05 54.6,561.01 55.5,560.67 56.4,560.93 57.3,561.76 58.2,560.75 59.1,561.2 60,561.36 60.9,561.64 61.8,560.86 62.7,560.93 63.6,560.9 64.5,561.08 65.4,561.14 66.3,561.74 67.2,561.62 68.1,561.65 69,560.63 69.9,560.64 70.8,561.45 71.7,561.67 72.6,561.17 73.5,561.3 74.4,560.6 75.3,561.07 76.2,561.71 77.1,561.59 78,561.63 78.9,561.77 79.8,560.9 80.7,560.73 81.6,560.79 82.5,561.23 83.4,561.42 84.3,561.73 85.2,561.47 86.1,561.38 87,561.52 87.9,561.15 88.8,561.26 89.7,560.65 90.6,561.54 91.5,560.88 92.4,561.7 93.3,561.37 94.2,560.96 95.1,560.75 95.3,561.2 98.5,515 99.4,514.7 100.3,515.16 101.2,515.24 102.1,514.53 103,514.48 103.9,515.03 104.8,515.1 105.7,514.87 106.6,514.67 107.5,515.12 108.4,514.41 109.3,514.76 110.2,514.95 111.1,515.55 112,515.17 112.9,515.46 113.8,514.97 114.7,514.68 115.6,514.7 116.5,515.55 117.4,515.25 118.3,514.77 119.2,514.43 120.1,515 121,515.21 121.9,514.9 122.8,514.71 123.7,515.2 124.6,515.51 125.5,514.67 126.4,514.44 127.3,514.81 128.2,514.9 129.1,515.22 130,514.64 130.9,515.36 131.8,515.29 132.7,515.01 133.6,514.65 134.5,515.56 135.4,514.77 136.3,515.38 137.2,514.68 138.1,514.67 139,515.31 139.2,515 144.2,561.2 145.1,560.95 146,561.74 146.9,561.19 147.8,560.82 148.7,560.87 149.6,561.1 150.5,561.4 151.4,561.74 152.3,560.78 153.2,561.07 154.1,560.86 155,561.77 155.9,560.77 156.8,560.66 157.7,560.67 158.6,561.07 159.5,561.68 160.4,561.66 161.3,561.48 162.2,561.8 163.1,561.72 164,561 164.9,560.82 165.8,561.72 166.7,561.5 167.6,560.64 168.5,561.4 169.4,561.05 170.3,561.05 171.2,561 172.1,560.8 173,560.6 173.9,560.94 174.8,561.02 175.7,561.75 176.6,560.75 177.5,561.76 178.4,560.85 179.3,561.03 180.2,561.59 181.1,561.59 182,561.12 182.9,560.66 183.8,561.17 184.7,561.05 185.6,561.7 186.5,560.83 187.4,561.04 188.3,561.68 189.2,560.64 190.1,561.09 191,561.57 191.9,561.52 192.8,560.65 193.3,561.2 196.5,515 197.4,514.44 198.3,514.48 199.2,515.5 200.1,514.71 201,515.3 201.9,515.48 202.8,514.81 203.7,514.73 204.6,515.55 205.5,515.14 206.4,514.71 207.3,515.26 208.2,514.78 209.1,514.73 210,514.4 210.9,515.31 211.8,515.5 212.7,515.16 213.6,515.53 214.5,514.43 215.4,514.68 216.3,514.97 217.2,515.55 218.1,515.54 219,514.86 219.9,514.7 220.8,514.92 221.7,514.99 222.6,515.51 223.5,514.62 224.4,515.36 225.3,515.29 226.2,515.39 227.1,515.33 228,515.13 228.9,514.79 229.8,514.78 230.7,514.83 231.6,515.34 232.5,514.49 233.4,514.64 234.3,515.3 235.2,514.7 236.1,514.48 237,514.44 237.9,515.06 238,515 242.4,561.2 243.3,560.99 244.2,561.78 245.1,561.66 246,561.79 246.9,560.92 247.8,560.7 248.7,560.72 249.6,561.2 250.5,561.45 251.4,561.14 252.3,560.88 253.2,561.1 254.1,561.34 255,561.41 255.9,561.5 256.8,561.62 257.7,561.4 258.6,560.75 259.5,561.61 260.4,560.95 261.3,561.28 262.2,561.05 263.1,561.49 264,560.84 264.9,560.9 265.8,560.89 266.7,560.78 267.6,561.66 268.5,561.29 269.4,560.99 270.3,561.08 271.2,561.79 272.1,561.21 273,560.88 273.9,561.57 274.8,561.38 275.7,561.79 276.6,560.72 277.5,561.17 278.4,561.58 279.3,561.61 280.2,561.7 281.1,560.65 282,560.95 282.9,560.74 283.8,560.83 284.7,561.77 285.6,561.3 286.5,561.72 287.4,561.05 288.3,561.64 289.2,561.14 290.1,560.91 291,561.53 291.9,561.73 292,561.2 295.7,515 296.6,514.53 297.5,515.12 298.4,515.14 299.3,514.66 300.2,514.84 301.1,514.57 302,514.64 302.9,514.71 303.8,515.12 304.7,515.18 305.6,514.64 306.5,514.41 307.4,514.79 308.3,515.21 309.2,514.62 310.1,514.77 311,514.64 311.9,515.35 312.8,515.06 313.7,514.48 314.6,514.52 315.5,514.87 316.4,515.06 317.3,515.17 318.2,514.51 319.1,514.6 320,515.23 320.9,514.89 321.8,514.74 322.7,514.77 323.6,515.54 324.5,514.77 325.4,515.08 326.3,514.83 327.2,514.9 328.1,515.44 329,515.6 329.9,514.84 330.8,514.64 331.7,515.27 332.6,514.64 333.5,514.41 334.4,515.48 335.3,514.91 336.2,515.38 336.7,515 340.7,561.2 341.6,561.09 342.5,561.66 343.4,561.15 344.3,560.8 345.2,560.62 346.1,561.26 347,561.37 347.9,561.69 348.8,560.71 349.7,561.35 350.6,561.05 351.5,561.21 352.4,560.78 353.3,560.94 354.2,561.23 355.1,561.71 356,560.73 356.9,561.19 357.8,561.57 358.7,561.76 359.6,560.84 360.5,560.75 361.4,561.73 362.3,561.77 363.2,561.18 364.1,560.66 365,561.71 365.9,561.07 366.8,561.69 367.7,561.34 368.6,561.59 369.5,560.79 370.4,561.54 371.3,560.87 372.2,561.09 373.1,561.62 374,561.6 374.9,560.82 375.8,560.86 376.7,561.08 377.6,561.22 378.5,561.06 379.4,560.75 380.3,560.9 381.2,561.47 382.1,561.68 383,560.65 383.9,561.27 384.8,561.51 385.7,560.65 386.6,561.61 387.5,560.74 388.4,561.32 389.3,561.26 389.5,561.2 393.6,515 394.5,515.15 395.4,514.77 396.3,514.9 397.2,515.1 398.1,514.91 399,515.19 399.9,514.94 400.8,514.93 401.7,514.43 402.6,515.14 403.5,514.99 404.4,514.68 405.3,515.32 406.2,515.34 407.1,514.95 408,514.62 408.9,514.97 409.8,514.53 410.7,514.55 411.6,514.92 412.5,514.51 413.4,514.93 414.3,515.01 415.2,514.45 416.1,515.16 417,514.5 417.9,515.28 418.8,515.33 419.7,515.01 420.6,514.47 421.5,515 422.4,514.85 423.3,515.54 424.2,514.56 425.1,515.43 426,515.6 426.9,515.28 427.8,515.38 428.7,514.63 429.6,515.58 430.5,514.99 431.4,515.55 432.3,515.5 433.2,514.6 434.1,515.35 434.4,515 438.7,561.2 439.6,561.72 440.5,560.68 441.4,561.02 442.3,561.51 443.2,560.79 444.1,561.68 445,560.93 445.9,561.58 446.8,560.77 447.7,561.2 448.6,561.7 449.5,560.85 450.4,560.92 451.3,561.21 452.2,560.98 453.1,560.64 454,560.82 454.9,560.79 455.8,561.72 456.7,561.42 457.6,561.67 458.5,560.8 459.4,561.54 460.3,560.74 461.2,561.24 462.1,561.36 463,561.03 463.9,561.65 464.8,561.27 465.7,561.3 466.6,561.66 467.5,560.73 468.4,561.79 469.3,561.36 470.2,561.07 471.1,561.56 472,560.92 472.9,561.79 473.8,561.29 474.7,561.03 475.6,561.52 476.5,561.13 477.4,560.81 478.3,561.49 479.2,560.66 480.1,561.58 481,560.9 481.9,561.37 482.8,561.78 483.7,561.3 484.6,561.4 485.5,560.98 486.4,560.6 487.3,560.64 488.2,560.78 488.5,561.2 492.6,515 493.5,515.14 494.4,514.92 495.3,515.02 496.2,515.47 497.1,514.56 498,514.67 498.9,515.18 499.8,514.43 500.7,514.4 501.6,514.83 502.5,514.53 503.4,514.83 504.3,514.67 505.2,515.1 506.1,515.11 507,514.65 507.9,515.15 508.8,514.97 509.7,514.56 510.6,515.52 511.5,514.69 512.4,514.58 513.3,514.51 514.2,515.17 515.1,515.45 516,515.34 516.9,514.88 517.8,514.72 518.7,514.41 519.6,515.17 520.5,515.07 521.4,514.82 522.3,515.17 523.2,514.93 524.1,515.52 525,515.28 525.9,514.7 526.8,515.48 527.7,514.45 528.6,515.04 529.5,514.89 530.4,514.69 531.3,514.47 532.2,515.33 533,515 537.4,561.2" fill="none" stroke="#22b022" stroke-width="1.6" stroke-linejoin="miter"/>
<polyline points="46.5,560.61 47.4,561.26 48.3,561.73 49.2,560.77 50.1,560.84 51,561.33 51.9,561.21 52.8,561.37 53.7,561.58 54.6,560.81 55.5,560.97 56.4,560.96 57.3,560.66 58.2,561.67 59.1,561.54 60,561.46 60.9,560.61 61.8,561.61 62.7,561.49 63.6,561.16 64.5,561.49 65.4,561.14 66.3,560.87 67.2,560.73 68.1,560.88 69,560.65 69.9,561 70.8,561.5 71.7,561.43 72.6,561.61 73.5,561.45 74.4,560.92 75.3,561.26 76.2,561.12 77.1,561.55 78,561.23 78.9,560.92 79.8,561.37 80.7,561.76 81.6,560.86 82.5,561.66 83.4,560.62 84.3,560.91 85.2,560.88 86.1,561.49 87,561.73 87.9,561.5 88.8,560.99 89.7,561.66 90.6,560.99 91.5,560.89 92.4,561.69 93.3,561.36 94.2,561.43 95.1,561.4 95.3,561.2 98.5,515 99.4,515.57 100.3,514.96 101.2,515.41 102.1,515.24 103,515.43 103.9,514.92 104.8,515.27 105.7,515.08 106.6,514.77 107.5,514.65 108.4,515.15 109.3,514.49 110.2,515.49 111.1,514.57 112,514.43 112.9,514.53 113.8,515.51 114.7,514.81 115.6,514.57 116.5,514.43 117.4,514.45 118.3,515.23 119.2,515.16 120.1,515.24 121,515.28 121.9,514.48 122.8,515.11 123.7,514.84 124.6,515.38 125.5,515.38 126.4,515.47 127.3,514.48 128.2,515.44 129.1,515.5 130,515.53 130.9,514.53 131.8,514.65 132.7,514.53 133.6,514.44 134.5,515.42 135.4,515.37 136.3,515.16 137.2,515.39 138.1,515.16 139,514.74 139.9,514.52 140.8,514.52 141.7,515.31 142.6,514.65 143.5,514.78 144.4,514.91 145.3,514.43 146.2,514.71 147.1,514.74 148,515.26 148.9,514.84 149.8,514.78 150.7,515.56 151.6,515 152.5,515.42 153.4,515.14 154.3,514.44 155.2,514.9 156.1,514.92 157,515.33 157.9,514.82 158.8,515.25 159.7,515.05 160.6,514.66 161.5,515.43 162.4,514.51 163.3,515.38 164.2,514.6 165.1,514.4 166,514.64 166.9,515.31 167.8,515.57 168.7,514.41 169.6,514.99 170.5,514.99 171.4,515.36 172.3,514.62 173.2,514.99 174.1,514.82 175,515.4 175.9,514.71 176.8,515.53 177.7,514.74 178.6,514.66 179.5,515.24 180.4,515 181.3,514.53 182.2,515.16 183.1,514.5 184,515.35 184.9,515.24 185.8,515.34 186.7,515.15 187.6,514.83 188.5,514.88 188.9,515 193.3,561.2 194.2,561.07 195.1,561.67 196,560.7 196.9,561.67 197.8,560.63 198.7,560.85 199.6,560.92 200.5,561.68 201.4,561.2 202.3,561.06 203.2,561.66 204.1,560.88 205,561.15 205.9,561.24 206.8,561.51 207.7,561.5 208.6,561.38 209.5,561.02 210.4,560.99 211.3,560.79 212.2,561.61 213.1,561.39 214,561.49 214.9,560.8 215.8,561.13 216.7,561.53 217.6,561.3 218.5,560.75 219.4,561.15 220.3,561.66 221.2,560.89 222.1,560.83 223,560.96 223.9,561.44 224.8,561.61 225.7,560.79 226.6,560.79 227.5,560.9 228.4,560.99 229.3,561.23 230.2,560.79 231.1,560.99 232,560.83 232.9,561.77 233.8,561.47 234.7,560.72 235.6,561.75 236.5,560.72 237.4,561.06 238.3,561.78 239.2,561.55 240.1,561.48 241,561.12 241.9,560.84 242.8,561.37 243.7,560.73 244.6,560.85 245.5,561.07 246.4,560.64 247.3,561.08 248.2,561.55 249.1,561.43 250,561.2 250.9,561.36 251.8,561.16 252.7,560.77 253.6,561.32 254.5,561.09 255.4,561.49 256.3,561.69 257.2,561.12 258.1,561.29 259,561.5 259.9,561.11 260.8,560.87 261.7,561.47 262.6,561.66 263.5,561.53 264.4,561.44 265.3,561.62 266.2,561.42 267.1,561.37 268,561.14 268.9,560.98 269.8,561.35 270.7,560.72 271.6,561.1 272.5,561.54 273.4,561.46 274.3,561.36 275.2,560.9 276.1,561.11 277,561.15 277.9,561.35 278.8,561.09 279.7,561.41 280.6,561.72 281.5,560.82 282.4,561.39 283.3,561.53 284.2,561.07 285.1,561.19 286,561.77 286.9,560.65 287.8,561.25 288.7,560.79 289.6,561.54 290.5,561.73 291.4,561.22 292,561.2 295.7,515 296.6,514.52 297.5,515.09 298.4,515.05 299.3,515.26 300.2,515.01 301.1,515.17 302,515.39 302.9,515.03 303.8,514.89 304.7,515.54 305.6,514.65 306.5,515.22 307.4,514.87 308.3,515.32 309.2,514.55 310.1,515.58 311,514.83 311.9,514.47 312.8,514.73 313.7,514.88 314.6,514.42 315.5,514.9 316.4,514.9 317.3,515.24 318.2,514.82 319.1,514.72 320,514.67 320.9,515.29 321.8,515.53 322.7,515.03 323.6,514.66 324.5,515.36 325.4,514.87 326.3,514.65 327.2,514.56 328.1,515.33 329,515.37 329.9,515.16 330.8,514.96 331.7,515.07 332.6,514.67 333.5,515.56 334.4,514.82 335.3,515.17 336.2,515.38 337.1,515.38 338,514.96 338.9,514.75 339.8,515.06 340.7,514.55 341.6,515.4 342.5,514.83 343.4,515.42 344.3,514.72 345.2,514.85 346.1,514.7 347,514.91 347.9,514.62 348.8,514.4 349.7,515.27 350.6,514.74 351.5,514.69 352.4,514.76 353.3,514.98 354.2,514.91 355.1,515.16 356,515.19 356.9,514.83 357.8,515.51 358.7,515.43 359.6,514.47 360.5,515.39 361.4,515.49 362.3,515.34 363.2,514.57 364.1,515.4 365,515.16 365.9,514.42 366.8,514.41 367.7,515.54 368.6,515.19 369.5,514.7 370.4,514.52 371.3,514.57 372.2,514.68 373.1,515.33 374,514.82 374.9,514.58 375.8,515.48 376.7,515.35 377.6,514.6 378.5,515.47 379.4,515.13 380.3,515.34 381.2,515.2 382.1,515.47 383,515.35 383.9,515.41 384.8,514.64 385.2,515 389.5,561.2 390.4,561.43 391.3,561.24 392.2,561.49 393.1,561.13 394,561.66 394.9,561.27 395.8,560.92 396.7,560.88 397.6,560.77 398.5,561.19 399.4,560.67 400.3,561.16 401.2,560.77 402.1,561.19 403,561.2 403.9,561.25 404.8,561.64 405.7,560.61 406.6,561.61 407.5,561.16 408.4,561.28 409.3,561.4 410.2,561.61 411.1,561.05 412,561.1 412.9,561.75 413.8,560.69 414.7,561.36 415.6,561.36 416.5,560.63 417.4,561.33 418.3,561.42 419.2,561.72 420.1,561 421,561.78 421.9,561.21 422.8,561.18 423.7,561.68 424.6,560.64 425.5,561.46 426.4,561.35 427.3,561.01 428.2,561.63 429.1,561.04 430,561.17 430.9,561.23 431.8,561.52 432.7,560.85 433.6,561.12 434.5,561.11 435.4,561.26 436.3,561.59 437.2,560.95 438.1,561.59 439,561.08 439.9,561.2 440.8,560.93 441.7,561.21 442.6,561.77 443.5,561.39 444.4,561.55 445.3,561 446.2,560.98 447.1,560.96 448,561.3 448.9,561.36 449.8,561.54 450.7,560.65 451.6,561.47 452.5,561.66 453.4,561.25 454.3,560.66 455.2,560.96 456.1,560.61 457,560.83 457.9,561.71 458.8,561.33 459.7,561.39 460.6,561.55 461.5,561.69 462.4,561.33 463.3,561.34 464.2,561.35 465.1,561.44 466,561.32 466.9,561.42 467.8,560.86 468.7,561.4 469.6,561.15 470.5,561.52 471.4,560.72 472.3,560.82 473.2,560.64 474.1,561.53 475,561.7 475.9,561.39 476.8,561.04 477.7,561.59 478.6,561.54 479.5,561.27 480.4,560.91 481.3,560.96 482.2,561.11 483.1,560.98 484,561.12 484.9,561.37 485.8,561.72 486.7,560.67 487.6,561.28 488.5,560.65 488.5,561.2 492.6,515 493.5,514.54 494.4,515.37 495.3,515.09 496.2,515.5 497.1,514.94 498,514.42 498.9,514.86 499.8,515.11 500.7,515.53 501.6,515.58 502.5,514.97 503.4,514.89 504.3,514.52 505.2,515.17 506.1,514.65 507,514.58 507.9,514.42 508.8,514.41 509.7,515.22 510.6,514.55 511.5,515.56 512.4,514.51 513.3,515.44 514.2,514.55 515.1,514.42 516,515.26 516.9,514.69 517.8,515.28 518.7,514.62 519.6,514.46 520.5,515.33 521.4,515.26 522.3,515.43 523.2,515.28 524.1,514.5 525,515.15 525.9,515.25 526.8,514.95 527.7,515.52 528.6,514.7 529.5,515.56 530.4,515.26 531.3,514.41 532.2,514.42 533.1,515.18 534,515.38 534.9,514.5 535.8,514.77 536.7,515.28 537.6,514.6" fill="none" stroke="#5a5af0" stroke-width="1.6" stroke-linejoin="miter"/>
<polyline points="45.45,594.88 45.94,594.3 46.44,593.62 46.93,594.41 47.42,594.99 47.91,594.89 48.41,595.54 48.9,594.64 49.39,596.12 49.88,595.42 50.38,596.15 50.87,596.29 51.36,596.03 51.85,596.14 52.34,597.1 52.84,597.59 53.33,597.44 53.82,597.17 54.31,596.78 54.81,596.49 55.3,598.48 55.79,598.1 56.28,598.52 56.78,597.69 57.27,598.4 57.76,599.31 58.25,599.18 58.75,598.89 59.24,598.47 59.73,598.87 60.22,599.95 60.72,599.09 61.21,599.87 61.7,599.87 62.19,600.62 62.69,600.6 63.18,599.71 63.67,599.31 64.16,600 64.66,600.48 65.15,600.96 65.64,601.58 66.13,601.89 66.63,600.35 67.12,602.1 67.61,602.21 68.1,602.48 68.6,602.05 69.09,601.61 69.58,602.92 70.07,602.99 70.57,602.9 71.06,603.52 71.55,602.54 72.04,602.18 72.54,603.27 73.03,603.91 73.52,602.87 74.01,604.13 74.51,604.65 75,603.41 75.49,604.31 75.98,604.6 76.48,604.33 76.97,603.97 77.46,604.22 77.95,605.37 78.45,605.6 78.94,605.09 79.43,604.5 79.92,606.09 80.42,606.17 80.91,605.24 81.4,606.09 81.89,606.88 82.39,607 82.88,606.43 83.37,606.49 83.86,606.86 84.36,606.21 84.85,606.37 85.34,606.5 85.83,607.69 86.33,607.16 86.82,607.71 87.31,607.53 87.8,607.91 88.3,607.32 88.79,607.26 89.28,609.32 89.77,608.22 90.27,607.83 90.76,609.03 91.25,609.49 91.75,608.37 92.24,609.4 92.73,609.04 93.22,609.53 93.72,608.68 94.21,608.85 94.7,607.45 95.19,601.61 95.69,596.65 96.18,593.63 96.67,590.58 97.16,589.72 97.66,587.51 98.15,587.36 98.64,586.03 99.13,585.33 99.62,584.95 100.12,582.97 100.61,582.04 101.1,581.94 101.59,581.52 102.09,580.99 102.58,580.63 103.07,581.37 103.56,581.75 104.06,580.7 104.55,581.47 105.04,581.2 105.53,579.33 106.03,580.23 106.52,579.68 107.01,578.98 107.5,580.52 108,578.99 108.49,579.48 108.98,579.52 109.47,580.05 109.97,579.37 110.46,578.72 110.95,578.74 111.44,578.08 111.94,579.61 112.43,579.58 112.92,577.96 113.41,577.52 113.91,577.89 114.4,578.01 114.89,579.05 115.38,578.99 115.88,578.79 116.37,577.15 116.86,578.57 117.35,578.36 117.85,578.18 118.34,578.81 118.83,576.9 119.32,577.03 119.82,578.2 120.31,578.52 120.8,577.95 121.29,577.15 121.79,577.69 122.28,577.98 122.77,576.63 123.26,577.03 123.76,576.85 124.25,576.55 124.74,577.22 125.23,576.56 125.73,576.66 126.22,576.43 126.71,577.47 127.2,576.1 127.7,577.47 128.19,576.4 128.68,576.04 129.17,577.79 129.67,576.35 130.16,577.74 130.65,577.58 131.14,577.59 131.64,576.06 132.13,576.64 132.62,575.91 133.11,577.55 133.61,577.35 134.1,576.89 134.59,576.51 135.08,576.26 135.58,577.2 136.07,576.48 136.56,576.75 137.05,575.76 137.55,575.89 138.04,575.53 138.53,576.82 139.02,576.48 139.52,575.64 140.01,577.07 140.5,575.83 141,576.1 141.49,575.57 141.98,575.77 142.47,576.89 142.97,575.86 143.46,575.5 143.95,576.13 144.44,575.76 144.94,576.91 145.43,575.31 145.92,577.02 146.41,575.16 146.91,576.82 147.4,576.34 147.89,575.41 148.38,575.92 148.88,575.52 149.37,575.45 149.86,575.32 150.35,575.63 150.84,576.86 151.34,576.86 151.83,576.7 152.32,575.02 152.81,575.39 153.31,576.59 153.8,574.9 154.29,576.22 154.78,575.34 155.28,576.69 155.77,574.75 156.26,576.32 156.75,575.37 157.25,574.96 157.74,574.67 158.23,576.31 158.72,575.69 159.22,574.99 159.71,575.48 160.2,576.42 160.69,575.02 161.19,575.71 161.68,574.83 162.17,574.9 162.66,576.07 163.16,575.94 163.65,574.9 164.14,574.65 164.63,574.66 165.13,575.69 165.62,575.45 166.11,575 166.6,574.85 167.1,575.65 167.59,575.83 168.08,576.03 168.57,575.56 169.07,574.79 169.56,574.51 170.05,575.83 170.54,575.17 171.04,575.79 171.53,574.45 172.02,575.95 172.51,574.99 173.01,575.99 173.5,576.03 173.99,575.28 174.48,574.32 174.98,576.1 175.47,575.22 175.96,576 176.45,574.78 176.95,574.61 177.44,575.9 177.93,574.96 178.43,574.55 178.92,574.95 179.41,575.39 179.9,574.21 180.39,575.23 180.89,575.07 181.38,575.21 181.87,574.41 182.37,575.59 182.86,575.79 183.35,575.88 183.84,574.78 184.33,575.56 184.83,574.89 185.32,575.62 185.81,574.24 186.31,575.85 186.8,576.01 187.29,575.09 187.78,575.12 188.27,575.15 188.77,575.15 189.26,574.12 189.75,576 190.25,574.51 190.74,574.42 191.23,574.26 191.72,574.55 192.21,575.68 192.71,574.1 193.2,574.23 193.69,575.65 194.19,574.85 194.68,574.71 195.17,576.09 195.66,576.26 196.15,576.36 196.65,576.94 197.14,575.95 197.63,577.69 198.12,577.6 198.62,576.46 199.11,576.83 199.6,577.78 200.09,578 200.59,577.76 201.08,577.65 201.57,578.43 202.06,578.1 202.56,579.21 203.05,579.95 203.54,578.73 204.03,579.78 204.53,580.33 205.02,579.37 205.51,580.9 206,581.32 206.5,580.42 206.99,580.69 207.48,581.73 207.97,581.3 208.47,581.24 208.96,582.53 209.45,582.4 209.94,581.72 210.44,581.72 210.93,582.1 211.42,582.5 211.91,583.79 212.41,583.63 212.9,584.04 213.39,584.04 213.88,584.3 214.38,582.9 214.87,584.02 215.36,585.09 215.85,585.24 216.35,584.06 216.84,584.6 217.33,585.21 217.82,584.86 218.32,585.38 218.81,584.65 219.3,585.57 219.79,585.9 220.29,585.12 220.78,585.54 221.27,587.39 221.76,587.19 222.26,587.7 222.75,587.28 223.24,587.82 223.73,588.15 224.23,588.34 224.72,586.82 225.21,588.22 225.7,587.65 226.2,588.66 226.69,588.03 227.18,588.75 227.67,589.7 228.17,589.28 228.66,588.72 229.15,589.44 229.64,589.44 230.14,590.66 230.63,589.51 231.12,589.73 231.61,590.59 232.11,589.72 232.6,590.84 233.09,591.74 233.58,591.04 234.08,590.72 234.57,591.3 235.06,591.61 235.56,591.02 236.05,591.14 236.54,591.33 237.03,591.83 237.52,592.23 238.02,592.17 238.51,592.26 239,592.12 239.5,593.21 239.99,593.97 240.48,593.69 240.97,593.78 241.46,594.11 241.96,593.39 242.45,594.58 242.94,594.25 243.44,594.6 243.93,594.9 244.42,594.78 244.91,594.63 245.4,594.67 245.9,594.79 246.39,595.55 246.88,595.46 247.38,596.03 247.87,595.05 248.36,595.9 248.85,597.09 249.34,596.01 249.84,596.81 250.33,596.85 250.82,596.6 251.31,598.17 251.81,596.96 252.3,598.08 252.79,597.01 253.28,597 253.78,598.77 254.27,598.07 254.76,597.48 255.25,598.3 255.75,598.57 256.24,599.32 256.73,598.23 257.22,598.63 257.72,600.26 258.21,599.98 258.7,598.97 259.19,599.5 259.69,599.69 260.18,600.5 260.67,600.54 261.16,601.17 261.66,601.27 262.15,600.83 262.64,601.43 263.13,601.6 263.63,601.79 264.12,601.38 264.61,602.16 265.11,602.16 265.6,602.73 266.09,601.32 266.58,602.96 267.07,601.39 267.57,603.07 268.06,602.86 268.55,602.85 269.04,603.93 269.54,603.31 270.03,603.15 270.52,604.04 271.01,604.37 271.51,604 272,603.7 272.49,604 272.99,604.16 273.48,604.85 273.97,604.14 274.46,604.49 274.95,604.97 275.45,604.79 275.94,604.81 276.43,605.9 276.93,606.17 277.42,605.63 277.91,605.67 278.4,605.3 278.89,605.69 279.39,605.52 279.88,606.53 280.37,606.7 280.87,605.86 281.36,607.67 281.85,606.63 282.34,607.82 282.83,607.96 283.33,608.35 283.82,606.99 284.31,607.58 284.81,608.7 285.3,607.05 285.79,607.27 286.28,608.45 286.77,608.46 287.27,609.46 287.76,609.31 288.25,608.99 288.75,610.05 289.24,609.24 289.73,609.38 290.22,609.87 290.71,606.25 291.21,600.6 291.7,596.87 292.19,593.2 292.69,591.95 293.18,589.51 293.67,587.71 294.16,585.67 294.65,585.25 295.15,584.5 295.64,584.15 296.13,583.61 296.62,583.73 297.12,583.47 297.61,582.14 298.1,581.71 298.59,581.78 299.09,582.25 299.58,580.69 300.07,580.84 300.56,581.2 301.06,579.72 301.55,579.84 302.04,580.99 302.53,580.53 303.03,579.76 303.52,578.82 304.01,580.26 304.5,579.73 305,579.88 305.49,580.11 305.98,579.81 306.47,578.78 306.97,578.16 307.46,578.34 307.95,578.7 308.44,578.6 308.94,577.89 309.43,577.81 309.92,578.63 310.41,578.51 310.91,577.95 311.4,579.17 311.89,578.39 312.38,577.14 312.88,577.82 313.37,578.52 313.86,577.5 314.36,578.22 314.85,576.8 315.34,577.35 315.83,578.37 316.32,577.81 316.82,577.93 317.31,576.94 317.8,577.5 318.29,577.57 318.79,576.95 319.28,577.67 319.77,577.4 320.26,578.29 320.76,577.41 321.25,577.04 321.74,576.43 322.24,576.46 322.73,577.63 323.22,576.29 323.71,576.24 324.2,576.35 324.7,577.02 325.19,577.58 325.68,577.13 326.18,577.49 326.67,575.97 327.16,575.84 327.65,577.32 328.14,576.4 328.64,577.15 329.13,576.4 329.62,576 330.12,576.17 330.61,575.8 331.1,577.39 331.59,576.72 332.08,576.22 332.58,576.4 333.07,576.24 333.56,575.56 334.06,577.2 334.55,576.56 335.04,577.29 335.53,576.23 336.02,576.56 336.52,575.8 337.01,575.37 337.5,577.12 338,576.94 338.49,575.84 338.98,576.99 339.47,576.8 339.96,575.75 340.46,576.33 340.95,577.02 341.44,576.08 341.94,576.96 342.43,575.53 342.92,575.81 343.41,576.44 343.9,575.43 344.4,575.59 344.89,576.7 345.38,575.9 345.88,576.5 346.37,575.38 346.86,575.23 347.35,575.58 347.84,575.22 348.34,576.77 348.83,575.39 349.32,575.92 349.81,575.01 350.31,575.83 350.8,575.52 351.29,575.54 351.78,574.85 352.28,574.95 352.77,576.34 353.26,575.38 353.75,575.15 354.25,575.03 354.74,575.2 355.23,575.1 355.73,574.68 356.22,575.92 356.71,575.26 357.2,574.88 357.69,575.97 358.19,574.73 358.68,575.07 359.17,576.19 359.66,574.76 360.16,575.38 360.65,576.16 361.14,576.08 361.63,574.78 362.13,575.16 362.62,575.88 363.11,575.18 363.61,576.34 364.1,574.82 364.59,576.3 365.08,575.4 365.57,574.83 366.07,575.27 366.56,574.62 367.05,575.76 367.54,574.86 368.04,576.13 368.53,575.5 369.02,575.05 369.51,574.79 370.01,575.51 370.5,574.71 370.99,576.02 371.49,574.51 371.98,575.29 372.47,575.34 372.96,574.78 373.45,575.78 373.95,575 374.44,575.53 374.93,575.35 375.42,574.83 375.92,574.98 376.41,574.36 376.9,574.54 377.39,575.88 377.89,574.81 378.38,575.49 378.87,574.37 379.37,575.27 379.86,574.86 380.35,575.14 380.84,574.72 381.33,574.25 381.83,574.74 382.32,574.56 382.81,574.36 383.31,575.53 383.8,574.66 384.29,574.89 384.78,575.9 385.27,575.62 385.77,575.83 386.26,575.79 386.75,574.32 387.25,574.6 387.74,574.11 388.23,575.4 388.72,575.36 389.21,574.73 389.71,574.85 390.2,575.35 390.69,575.65 391.19,574.96 391.68,576.37 392.17,575.6 392.66,576.36 393.15,575.68 393.65,575.76 394.14,577.57 394.63,577.42 395.12,577.59 395.62,576.45 396.11,576.66 396.6,577.11 397.09,577.39 397.59,577.81 398.08,578.17 398.57,577.7 399.06,578.44 399.56,579.3 400.05,578.59 400.54,580.11 401.03,579.78 401.53,580.27 402.02,579.55 402.51,580.12 403,580.82 403.5,580.35 403.99,579.85 404.48,581.72 404.97,581.8 405.47,581.02 405.96,580.73 406.45,582.55 406.94,582.25 407.44,581.33 407.93,581.92 408.42,581.85 408.91,583.41 409.41,582.44 409.9,584.04 410.39,583.91 410.88,582.77 411.38,584.18 411.87,583.77 412.36,584.67 412.86,585.03 413.35,584.12 413.84,583.93 414.33,585.84 414.82,584.98 415.32,586.18 415.81,585.9 416.3,586.18 416.79,586.55 417.29,586.33 417.78,586.17 418.27,585.56 418.76,587.04 419.26,586.68 419.75,587.04 420.24,588.05 420.74,586.64 421.23,588.09 421.72,586.84 422.21,588.34 422.7,588.73 423.2,587.83 423.69,588.58 424.18,589.61 424.67,589.13 425.17,589.12 425.66,588.71 426.15,588.51 426.64,589.29 427.14,589.58 427.63,589.34 428.12,589.74 428.62,589.57 429.11,590.89 429.6,590.99 430.09,590.31 430.58,590.49 431.08,591.22 431.57,591.26 432.06,592.41 432.55,591.42 433.05,591.49 433.54,592.84 434.03,591.53 434.52,592.55 435.02,592.26 435.51,593.4 436,593.04 436.5,593.64 436.99,592.63 437.48,593.8 437.97,593.84 438.46,593.73 438.96,594.52 439.45,594.82 439.94,593.56 440.43,594.08 440.93,594.39 441.42,594.25 441.91,594.13 442.4,594.74 442.9,594.75 443.39,595.92 443.88,595.59 444.38,595.09 444.87,595.68 445.36,596.13 445.85,596.09 446.35,595.87 446.84,595.84 447.33,595.89 447.82,598.02 448.31,597.7 448.81,596.53 449.3,597.97 449.79,598.66 450.28,597.99 450.78,597.25 451.27,598.17 451.76,598.23 452.25,597.9 452.75,598.77 453.24,597.87 453.73,599.85 454.23,599.46 454.72,599.59 455.21,600.37 455.7,599.97 456.19,599.33 456.69,599.48 457.18,599.43 457.67,599.36 458.16,601.02 458.66,601.31 459.15,600.38 459.64,600.32 460.13,601.39 460.63,601.96 461.12,602.28 461.61,600.92 462.11,602.32 462.6,602.57 463.09,602.55 463.58,601.87 464.07,601.75 464.57,603.19 465.06,602.33 465.55,602.59 466.04,603.11 466.54,602.9 467.03,603.98 467.52,602.95 468.01,602.71 468.51,603.92 469,604.2 469.49,604.73 469.99,604.66 470.48,605.21 470.97,605.45 471.46,604.7 471.95,604.86 472.45,604.33 472.94,604.77 473.43,605.48 473.92,604.63 474.42,606 474.91,605.11 475.4,605.82 475.89,607.02 476.39,605.41 476.88,605.46 477.37,606.41 477.87,606.07 478.36,607.28 478.85,605.99 479.34,607.82 479.83,607.99 480.33,608.01 480.82,607.43 481.31,607.3 481.8,608.2 482.3,608.06 482.79,608.02 483.28,608 483.77,608.35 484.27,608.95 484.76,609.42 485.25,609.72 485.75,608.39 486.24,608.79 486.73,609.24 487.22,608.62 487.71,602.09 488.21,597.21 488.7,593.53 489.19,591.37 489.68,589.6 490.18,589.02 490.67,587.62 491.16,586.5 491.65,585.87 492.15,585.14 492.64,583.86 493.13,583.73 493.62,581.78 494.12,582.62 494.61,582.14 495.1,581.21 495.6,581.48 496.09,581.98 496.58,580.81 497.07,580.93 497.56,580.03 498.06,579.94 498.55,580.85 499.04,578.98 499.53,579.16 500.03,580 500.52,579.41 501.01,578.56 501.5,579.6 502,578.91 502.49,579.22 502.98,578.8 503.48,578.93 503.97,578.91 504.46,578.49 504.95,577.85 505.44,577.9 505.94,579.25 506.43,578.49 506.92,577.55 507.41,578.98 507.91,577.7 508.4,577.32 508.89,578.14 509.38,577.52 509.88,577.94 510.37,578.01 510.86,577.31 511.36,577.95 511.85,576.98 512.34,577.73 512.83,577.83 513.33,576.77 513.82,577.38 514.31,576.67 514.8,577.35 515.29,578.16 515.79,577.49 516.28,577.78 516.77,577.82 517.26,576.5 517.76,578.21 518.25,577.64 518.74,576.36 519.24,577.78 519.73,576.87 520.22,576.39 520.71,577.94 521.2,577.11 521.7,577.5 522.19,576.19 522.68,577.44 523.17,575.97 523.67,576.29 524.16,576.53 524.65,575.79 525.14,576.92 525.64,576.13 526.13,576.27 526.62,577.06 527.12,576.47 527.61,577.36 528.1,576.8 528.59,577.28 529.09,576.63 529.58,577.31 530.07,577.2 530.56,575.76 531.05,576.89 531.55,576.06 532.04,576.88 532.53,576.69 533.02,576.96 533.52,575.53 534.01,576.01 534.5,576.71 535,577.11 535.49,576.64 535.98,575.26 536.47,576.36 536.96,575.33 537.46,576.21 537.95,576.7" fill="none" stroke="#000" stroke-width="2.2" stroke-linejoin="miter"/>
<polyline points="45.45,609.31 45.94,610.63 46.44,610.47 46.93,610.07 47.42,610.17 47.91,610.7 48.41,611.43 48.9,611.25 49.39,610.77 49.88,610.81 50.38,611.11 50.87,612.25 51.36,611.55 51.85,612.24 52.34,612.03 52.84,612.75 53.33,612.48 53.82,612.31 54.31,613.49 54.81,613.17 55.3,613.54 55.79,613.86 56.28,614.21 56.78,613.05 57.27,613.65 57.76,613.53 58.25,614.17 58.75,614.83 59.24,614.87 59.73,613.94 60.22,614.28 60.72,615.31 61.21,615.25 61.7,614.98 62.19,615.23 62.69,614.91 63.18,616.01 63.67,615.5 64.16,616.3 64.66,616.06 65.15,615.43 65.64,615.91 66.13,615.87 66.63,616.94 67.12,616.63 67.61,615.98 68.1,616.28 68.6,616.66 69.09,616.92 69.58,617.19 70.07,617.03 70.57,617.1 71.06,616.72 71.55,617.63 72.04,617.39 72.54,617.06 73.03,617.77 73.52,618.61 74.01,617.4 74.51,617.64 75,618.47 75.49,618.02 75.98,618.11 76.48,618.53 76.97,618.29 77.46,618.81 77.95,618.85 78.45,619.54 78.94,619.68 79.43,618.43 79.92,619.26 80.42,619.64 80.91,619.87 81.4,619.82 81.89,619.7 82.39,619.79 82.88,619.49 83.37,619.46 83.86,620.26 84.36,620.45 84.85,620.63 85.34,620.34 85.83,619.89 86.33,620.61 86.82,620.66 87.31,620.41 87.8,620.66 88.3,620.34 88.79,620.69 89.28,620.56 89.77,620.15 90.27,620.61 90.76,620.66 91.25,621.66 91.75,621.02 92.24,620.92 92.73,620.82 93.22,620.87 93.72,621.1 94.21,620.86 94.7,617.91 95.19,610.74 95.69,603.95 96.18,599.31 96.67,596 97.16,592.98 97.66,590.75 98.15,589.01 98.64,588.08 99.13,587.07 99.62,586.83 100.12,585.89 100.61,585.85 101.1,584.51 101.59,584.89 102.09,584.03 102.58,582.98 103.07,582.81 103.56,583.1 104.06,583.41 104.55,582.29 105.04,582.66 105.53,581.98 106.03,582.4 106.52,581.11 107.01,581.52 107.5,581.95 108,580.93 108.49,580.76 108.98,580.3 109.47,580.37 109.97,580.4 110.46,580.9 110.95,580.1 111.44,580.25 111.94,579.87 112.43,580.34 112.92,580.61 113.41,580.22 113.91,579.5 114.4,580.16 114.89,580.4 115.38,579.82 115.88,579.01 116.37,579.95 116.86,579.97 117.35,579.15 117.85,578.8 118.34,578.8 118.83,579.22 119.32,579.63 119.82,579.24 120.31,579.57 120.8,578.52 121.29,578.62 121.79,579.15 122.28,578.95 122.77,578.56 123.26,578.88 123.76,578.35 124.25,577.9 124.74,578.35 125.23,577.78 125.73,578.55 126.22,578.09 126.71,578.26 127.2,578.36 127.7,577.83 128.19,578.08 128.68,577.4 129.17,578.63 129.67,578.08 130.16,578.63 130.65,577.28 131.14,578.02 131.64,578.13 132.13,577.54 132.62,577.17 133.11,577.21 133.61,577.15 134.1,577.99 134.59,577 135.08,577.98 135.58,577.39 136.07,577.52 136.56,577.55 137.05,577.47 137.55,577.57 138.04,577.46 138.53,577.05 139.02,577.59 139.52,576.88 140.01,577.48 140.5,577.52 141,577.5 141.49,576.82 141.98,577.44 142.47,577.69 142.97,576.93 143.46,576.65 143.95,576.96 144.44,577.52 144.94,576.36 145.43,576.16 145.92,576.78 146.41,577.01 146.91,577.14 147.4,576.54 147.89,577.39 148.38,576.3 148.88,577.01 149.37,576.05 149.86,575.94 150.35,576.07 150.84,575.94 151.34,576.53 151.83,576.58 152.32,576.03 152.81,577.07 153.31,576.25 153.8,575.92 154.29,575.94 154.78,576.7 155.28,576.93 155.77,575.85 156.26,575.64 156.75,576.67 157.25,575.9 157.74,576.91 158.23,576.22 158.72,576.39 159.22,575.96 159.71,576.58 160.2,576.08 160.69,575.87 161.19,576.67 161.68,575.53 162.17,576.39 162.66,575.44 163.16,576.23 163.65,575.87 164.14,576.5 164.63,575.36 165.13,576.05 165.62,575.82 166.11,576.51 166.6,576.53 167.1,576.07 167.59,575.49 168.08,575.52 168.57,575.52 169.07,575.74 169.56,575.44 170.05,575.39 170.54,576.15 171.04,575.97 171.53,575.48 172.02,576.44 172.51,575.34 173.01,575.82 173.5,575.22 173.99,576.2 174.48,576.2 174.98,575.34 175.47,576.01 175.96,576.09 176.45,575.32 176.95,575.38 177.44,575.58 177.93,576.14 178.43,575.11 178.92,575.82 179.41,575.69 179.9,575.48 180.39,575.65 180.89,576.06 181.38,575.11 181.87,576.04 182.37,575.3 182.86,575.87 183.35,575.98 183.84,575.02 184.33,575.96 184.83,576.13 185.32,575.15 185.81,574.75 186.31,574.87 186.8,576.07 187.29,574.71 187.78,575.96 188.27,574.89 188.77,575.7 189.26,574.79 189.75,574.88 190.25,575.6 190.74,574.76 191.23,575.1 191.72,575.9 192.21,575.61 192.71,575.83 193.2,575.71 193.69,574.95 194.19,575.8 194.68,577.14 195.17,577.55 195.66,577.19 196.15,578.38 196.65,578.54 197.14,579.35 197.63,579.41 198.12,579.81 198.62,581.68 199.11,581.25 199.6,582.54 200.09,581.97 200.59,582.97 201.08,582.97 201.57,583.86 202.06,583.98 202.56,585.16 203.05,584.87 203.54,586.15 204.03,586.28 204.53,586.18 205.02,586.96 205.51,587.6 206,588.63 206.5,588.26 206.99,588.49 207.48,589.97 207.97,590.26 208.47,590.46 208.96,590.23 209.45,590.49 209.94,591.01 210.44,591.13 210.93,591.48 211.42,592.52 211.91,592.76 212.41,593.34 212.9,593.44 213.39,593.32 213.88,594.63 214.38,594.94 214.87,595.14 215.36,595.5 215.85,596.05 216.35,596.8 216.84,596.99 217.33,597.1 217.82,596.99 218.32,597.21 218.81,597.67 219.3,598.77 219.79,598.27 220.29,598.58 220.78,598.93 221.27,598.86 221.76,600.36 222.26,599.27 222.75,600.42 223.24,601.16 223.73,600.51 224.23,601.29 224.72,601.25 225.21,601.34 225.7,601.56 226.2,601.72 226.69,603.01 227.18,603.2 227.67,603.64 228.17,602.7 228.66,603.87 229.15,603.61 229.64,604.31 230.14,604.43 230.63,604.35 231.12,605.52 231.61,604.4 232.11,605.69 232.6,606.08 233.09,605.83 233.58,606.18 234.08,606.98 234.57,606.14 235.06,606.92 235.56,607.3 236.05,607.01 236.54,607.7 237.03,607.47 237.52,607.87 238.02,608.2 238.51,608.5 239,608.21 239.5,608.85 239.99,608.93 240.48,608.68 240.97,609.42 241.46,609.13 241.96,610.23 242.45,609.81 242.94,610.35 243.44,610.26 243.93,610.38 244.42,610.2 244.91,610.28 245.4,611.55 245.9,611.17 246.39,611.34 246.88,611.52 247.38,612.09 247.87,611.46 248.36,611.53 248.85,612.61 249.34,612.27 249.84,612.68 250.33,613.11 250.82,613.36 251.31,613.48 251.81,612.48 252.3,613.11 252.79,613.89 253.28,614.02 253.78,613.2 254.27,613.39 254.76,613.67 255.25,613.61 255.75,614.11 256.24,614.87 256.73,614.62 257.22,614.66 257.72,614.28 258.21,614.85 258.7,615.83 259.19,615.54 259.69,615.32 260.18,615.49 260.67,616.07 261.16,616.14 261.66,615.41 262.15,616.28 262.64,615.96 263.13,616.3 263.63,616.02 264.12,616.33 264.61,616.4 265.11,616.57 265.6,616.18 266.09,616.55 266.58,617.18 267.07,616.57 267.57,616.85 268.06,617.71 268.55,617.2 269.04,617.38 269.54,617.37 270.03,618.3 270.52,617.36 271.01,618.23 271.51,618.64 272,617.82 272.49,618.23 272.99,618.84 273.48,618.69 273.97,618.44 274.46,618.08 274.95,618.73 275.45,618.72 275.94,619.29 276.43,618.8 276.93,619.04 277.42,619.47 277.91,619.78 278.4,619.23 278.89,619.36 279.39,619.71 279.88,620.28 280.37,619.34 280.87,620.51 281.36,620.23 281.85,619.83 282.34,620.32 282.83,619.93 283.33,619.64 283.82,620.68 284.31,620.23 284.81,620.51 285.3,620.54 285.79,621.18 286.28,621.05 286.77,620.1 287.27,620.96 287.76,620.85 288.25,620.92 288.75,621.52 289.24,620.99 289.73,621.14 290.22,621.79 290.71,618.51 291.21,610.21 291.7,604.03 292.19,599.84 292.69,596.14 293.18,593.59 293.67,591.08 294.16,588.98 294.65,588.61 295.15,587.42 295.64,586.89 296.13,586.2 296.62,584.7 297.12,584.34 297.61,583.71 298.1,584.36 298.59,583.01 299.09,582.69 299.58,583.34 300.07,582.82 300.56,581.87 301.06,582.53 301.55,582.37 302.04,581.86 302.53,581.09 303.03,581.81 303.52,581.28 304.01,581.36 304.5,581.8 305,581.41 305.49,581.37 305.98,580.23 306.47,580.38 306.97,580.52 307.46,579.7 307.95,580.98 308.44,579.88 308.94,579.77 309.43,579.75 309.92,579.58 310.41,580.34 310.91,579.83 311.4,579.69 311.89,579.49 312.38,578.89 312.88,579.17 313.37,579.89 313.86,579.73 314.36,579.74 314.85,578.83 315.34,578.69 315.83,578.42 316.32,579.03 316.82,578.74 317.31,578.81 317.8,578.79 318.29,578.86 318.79,578.5 319.28,579.05 319.77,578.16 320.26,579.11 320.76,578.55 321.25,577.79 321.74,578.11 322.24,578.37 322.73,578.14 323.22,578.31 323.71,577.93 324.2,577.81 324.7,578.5 325.19,577.74 325.68,578.29 326.18,578.37 326.67,578.03 327.16,577.8 327.65,578.43 328.14,577.7 328.64,578.26 329.13,577.07 329.62,577.56 330.12,577.81 330.61,576.94 331.1,578.05 331.59,576.9 332.08,577.6 332.58,576.98 333.07,577.98 333.56,577.44 334.06,577.74 334.55,577.28 335.04,577.49 335.53,577.46 336.02,576.9 336.52,576.75 337.01,577.59 337.5,576.59 338,577.64 338.49,576.61 338.98,576.43 339.47,576.4 339.96,577.33 340.46,577.53 340.95,576.75 341.44,577.07 341.94,576.48 342.43,577.36 342.92,577.02 343.41,576.25 343.9,576.09 344.4,576.95 344.89,576.01 345.38,577.1 345.88,576.31 346.37,576.2 346.86,576.67 347.35,576.27 347.84,576.59 348.34,576 348.83,577.03 349.32,576.19 349.81,576.89 350.31,575.9 350.8,576.78 351.29,577.02 351.78,576.17 352.28,575.65 352.77,576.11 353.26,576.46 353.75,575.85 354.25,576.28 354.74,575.63 355.23,576.13 355.73,576.48 356.22,576.04 356.71,576.37 357.2,575.56 357.69,576.54 358.19,575.54 358.68,576.64 359.17,576.72 359.66,576.63 360.16,576.03 360.65,575.68 361.14,575.75 361.63,576.29 362.13,575.92 362.62,576.51 363.11,575.33 363.61,575.86 364.1,576.37 364.59,575.99 365.08,575.89 365.57,575.24 366.07,575.3 366.56,575.47 367.05,576.32 367.54,576.24 368.04,575.36 368.53,576.33 369.02,575.06 369.51,575.84 370.01,576.35 370.5,575.46 370.99,576.29 371.49,575.87 371.98,575.01 372.47,575.39 372.96,575.55 373.45,575.25 373.95,575.93 374.44,575.13 374.93,575.97 375.42,575.27 375.92,574.94 376.41,575.62 376.9,574.96 377.39,575.58 377.89,575.91 378.38,575.63 378.87,575.43 379.37,574.82 379.86,575.48 380.35,574.89 380.84,575.65 381.33,574.92 381.83,575.53 382.32,575.21 382.81,575.23 383.31,575.62 383.8,574.91 384.29,574.91 384.78,575.98 385.27,575.12 385.77,575.83 386.26,575.86 386.75,575.3 387.25,574.83 387.74,574.75 388.23,575.84 388.72,574.76 389.21,575.28 389.71,575.33 390.2,574.5 390.69,575.56 391.19,575.7 391.68,576.78 392.17,577.3 392.66,577.65 393.15,577.95 393.65,578.78 394.14,579.03 394.63,579.44 395.12,580.12 395.62,581.52 396.11,581.51 396.6,582.55 397.09,581.82 397.59,583.61 398.08,583.46 398.57,584.36 399.06,584.53 399.56,585.16 400.05,584.98 400.54,586.17 401.03,585.79 401.53,586.39 402.02,586.51 402.51,587.46 403,588.06 403.5,588.18 403.99,589.44 404.48,588.73 404.97,589.84 405.47,589.76 405.96,590.68 406.45,591.34 406.94,591.64 407.44,591.12 407.93,591.77 408.42,592.65 408.91,593.56 409.41,592.62 409.9,593.8 410.39,594.27 410.88,594.81 411.38,594.5 411.87,595.51 412.36,595.38 412.86,596.37 413.35,595.44 413.84,597.08 414.33,596.68 414.82,597 415.32,596.88 415.81,597.43 416.3,598.44 416.79,598.68 417.29,598.25 417.78,598.83 418.27,598.86 418.76,599.24 419.26,599.57 419.75,600.03 420.24,601.23 420.74,601.55 421.23,601.55 421.72,601.4 422.21,601.7 422.7,602.38 423.2,602.83 423.69,602.88 424.18,602.99 424.67,602.65 425.17,603.51 425.66,604.08 426.15,604.25 426.64,603.54 427.14,604.66 427.63,604.4 428.12,604.38 428.62,605.75 429.11,605.58 429.6,605.93 430.09,605.31 430.58,606.51 431.08,606.89 431.57,607.08 432.06,607.08 432.55,607.43 433.05,607.61 433.54,607.53 434.03,607.53 434.52,608.29 435.02,608.44 435.51,608.77 436,608.18 436.5,609.31 436.99,608.91 437.48,609.69 437.97,608.73 438.46,610.12 438.96,610.06 439.45,609.5 439.94,610.51 440.43,609.85 440.93,609.99 441.42,610.54 441.91,610.41 442.4,610.95 442.9,611.71 443.39,611.57 443.88,611.78 444.38,611.5 444.87,612.22 445.36,612.4 445.85,612.42 446.35,612.94 446.84,612.94 447.33,612.52 447.82,612.23 448.31,613.18 448.81,613.59 449.3,613.05 449.79,613.56 450.28,614.05 450.78,614.14 451.27,613.18 451.76,614 452.25,613.49 452.75,613.76 453.24,614.88 453.73,614.47 454.23,614.87 454.72,614.8 455.21,614.77 455.7,614.73 456.19,615.06 456.69,615.88 457.18,615.69 457.67,615.36 458.16,615.2 458.66,615.58 459.15,616.31 459.64,616.07 460.13,616.49 460.63,616.82 461.12,615.98 461.61,616.88 462.11,616.1 462.6,617.31 463.09,616.53 463.58,616.76 464.07,617.83 464.57,617.11 465.06,617.02 465.55,618.06 466.04,617.78 466.54,618.28 467.03,617.68 467.52,617.93 468.01,618.67 468.51,618.15 469,618.92 469.49,617.9 469.99,618.89 470.48,618.05 470.97,618.66 471.46,618.02 471.95,618.35 472.45,619.52 472.94,618.93 473.43,619.52 473.92,618.82 474.42,619.05 474.91,618.79 475.4,619.51 475.89,620.03 476.39,619.62 476.88,619.51 477.37,620.37 477.87,620.4 478.36,620.16 478.85,619.42 479.34,620.26 479.83,620.09 480.33,620.89 480.82,620.13 481.31,620.62 481.8,620.66 482.3,620.37 482.79,620.65 483.28,620.94 483.77,621.33 484.27,620.83 484.76,620.71 485.25,621.64 485.75,620.42 486.24,621.58 486.73,621.43 487.22,621.73 487.71,612.4 488.21,606.04 488.7,601.19 489.19,597.17 489.68,594.33 490.18,591.12 490.67,589.81 491.16,588.2 491.65,588.26 492.15,587.29 492.64,585.52 493.13,585.52 493.62,584.98 494.12,583.79 494.61,583.87 495.1,584.02 495.6,583.55 496.09,582.76 496.58,583.17 497.07,582.27 497.56,582.4 498.06,582.02 498.55,582.61 499.04,581.97 499.53,582.02 500.03,581.68 500.52,581.12 501.01,581.79 501.5,581.3 502,581.15 502.49,580.45 502.98,580.17 503.48,580.64 503.97,580.88 504.46,580.73 504.95,580.01 505.44,579.62 505.94,580.06 506.43,580.48 506.92,579.39 507.41,580.11 507.91,579.24 508.4,579.36 508.89,578.92 509.38,579.19 509.88,579.23 510.37,579.98 510.86,579.91 511.36,578.75 511.85,578.86 512.34,579.68 512.83,578.58 513.33,578.69 513.82,578.79 514.31,578.27 514.8,578.43 515.29,578.56 515.79,578.49 516.28,579.24 516.77,578.21 517.26,578.07 517.76,579.01 518.25,578.31 518.74,578.81 519.24,578.48 519.73,578.63 520.22,577.93 520.71,577.65 521.2,578.45 521.7,578.01 522.19,578.09 522.68,578.2 523.17,578.27 523.67,577.56 524.16,577.64 524.65,578.37 525.14,577.79 525.64,577.41 526.13,577.85 526.62,577.29 527.12,577.97 527.61,576.91 528.1,577.97 528.59,577.57 529.09,577.23 529.58,578.02 530.07,577.04 530.56,576.97 531.05,576.69 531.55,577.33 532.04,577.58 532.53,577.44 533.02,577.04 533.52,577.56 534.01,576.55 534.5,576.79 535,577.23 535.49,577.66 535.98,577.16 536.47,577.21 536.96,577.3 537.46,576.73 537.95,577.47" fill="none" stroke="#ff2a2a" stroke-width="1.9" stroke-linejoin="miter"/>
<line x1="70.07" y1="629.4" x2="70.07" y2="627.4" stroke="#999" stroke-width="0.8"/>
<line x1="94.7" y1="629.4" x2="94.7" y2="627.4" stroke="#999" stroke-width="0.8"/>
<line x1="119.32" y1="629.4" x2="119.32" y2="627.4" stroke="#999" stroke-width="0.8"/>
<line x1="143.95" y1="629.4" x2="143.95" y2="627.4" stroke="#999" stroke-width="0.8"/>
<line x1="168.57" y1="629.4" x2="168.57" y2="627.4" stroke="#999" stroke-width="0.8"/>
<line x1="193.2" y1="629.4" x2="193.2" y2="627.4" stroke="#999" stroke-width="0.8"/>
<line x1="217.82" y1="629.4" x2="217.82" y2="627.4" stroke="#999" stroke-width="0.8"/>
<line x1="242.45" y1="629.4" x2="242.45" y2="627.4" stroke="#999" stroke-width="0.8"/>
<line x1="267.07" y1="629.4" x2="267.07" y2="627.4" stroke="#999" stroke-width="0.8"/>
<line x1="291.7" y1="629.4" x2="291.7" y2="627.4" stroke="#999" stroke-width="0.8"/>
<line x1="316.32" y1="629.4" x2="316.32" y2="627.4" stroke="#999" stroke-width="0.8"/>
<line x1="340.95" y1="629.4" x2="340.95" y2="627.4" stroke="#999" stroke-width="0.8"/>
<line x1="365.57" y1="629.4" x2="365.57" y2="627.4" stroke="#999" stroke-width="0.8"/>
<line x1="390.2" y1="629.4" x2="390.2" y2="627.4" stroke="#999" stroke-width="0.8"/>
<line x1="414.82" y1="629.4" x2="414.82" y2="627.4" stroke="#999" stroke-width="0.8"/>
<line x1="439.45" y1="629.4" x2="439.45" y2="627.4" stroke="#999" stroke-width="0.8"/>
<line x1="464.07" y1="629.4" x2="464.07" y2="627.4" stroke="#999" stroke-width="0.8"/>
<line x1="488.7" y1="629.4" x2="488.7" y2="627.4" stroke="#999" stroke-width="0.8"/>
<line x1="513.33" y1="629.4" x2="513.33" y2="627.4" stroke="#999" stroke-width="0.8"/>
<rect x="46.5" y="434.5" width="491.1" height="194.9" fill="none" stroke="#8a8a8a" stroke-width="1.15"/>
<line x1="46.5" y1="498.3" x2="537.6" y2="498.3" stroke="#8a8a8a" stroke-width="1.15"/>
<line x1="46.5" y1="566.5" x2="537.6" y2="566.5" stroke="#8a8a8a" stroke-width="1.15"/>
<text x="43.4" y="437.3" font-family="'Liberation Serif','DejaVu Serif',serif" font-size="7.4" font-weight="bold" text-anchor="end" stroke="#000" stroke-width="0.4" textLength="11" lengthAdjust="spacingAndGlyphs">4.0</text>
<text x="43.4" y="450.7" font-family="'Liberation Serif','DejaVu Serif',serif" font-size="7.4" font-weight="bold" text-anchor="end" stroke="#000" stroke-width="0.4" textLength="11" lengthAdjust="spacingAndGlyphs">3.5</text>
<text x="43.4" y="464.1" font-family="'Liberation Serif','DejaVu Serif',serif" font-size="7.4" font-weight="bold" text-anchor="end" stroke="#000" stroke-width="0.4" textLength="11" lengthAdjust="spacingAndGlyphs">3.0</text>
<text x="43.4" y="477.5" font-family="'Liberation Serif','DejaVu Serif',serif" font-size="7.4" font-weight="bold" text-anchor="end" stroke="#000" stroke-width="0.4" textLength="11" lengthAdjust="spacingAndGlyphs">2.5</text>
<text x="43.4" y="490.9" font-family="'Liberation Serif','DejaVu Serif',serif" font-size="7.4" font-weight="bold" text-anchor="end" stroke="#000" stroke-width="0.4" textLength="11" lengthAdjust="spacingAndGlyphs">2.0</text>
<text x="43.4" y="563.1" font-family="'Liberation Serif','DejaVu Serif',serif" font-size="7.4" font-weight="bold" text-anchor="end" stroke="#000" stroke-width="0.4" textLength="3.8" lengthAdjust="spacingAndGlyphs">0</text>
<text x="43.4" y="551.55" font-family="'Liberation Serif','DejaVu Serif',serif" font-size="7.4" font-weight="bold" text-anchor="end" stroke="#000" stroke-width="0.4" textLength="3.8" lengthAdjust="spacingAndGlyphs">1</text>
<text x="43.4" y="540" font-family="'Liberation Serif','DejaVu Serif',serif" font-size="7.4" font-weight="bold" text-anchor="end" stroke="#000" stroke-width="0.4" textLength="3.8" lengthAdjust="spacingAndGlyphs">2</text>
<text x="43.4" y="528.45" font-family="'Liberation Serif','DejaVu Serif',serif" font-size="7.4" font-weight="bold" text-anchor="end" stroke="#000" stroke-width="0.4" textLength="3.8" lengthAdjust="spacingAndGlyphs">3</text>
<text x="43.4" y="516.9" font-family="'Liberation Serif','DejaVu Serif',serif" font-size="7.4" font-weight="bold" text-anchor="end" stroke="#000" stroke-width="0.4" textLength="3.8" lengthAdjust="spacingAndGlyphs">4</text>
<text x="43.4" y="505.35" font-family="'Liberation Serif','DejaVu Serif',serif" font-size="7.4" font-weight="bold" text-anchor="end" stroke="#000" stroke-width="0.4" textLength="3.8" lengthAdjust="spacingAndGlyphs">5</text>
<text x="43.4" y="578.3" font-family="'Liberation Serif','DejaVu Serif',serif" font-size="7.4" font-weight="bold" text-anchor="end" stroke="#000" stroke-width="0.4" textLength="11" lengthAdjust="spacingAndGlyphs">3.0</text>
<text x="43.4" y="589.3" font-family="'Liberation Serif','DejaVu Serif',serif" font-size="7.4" font-weight="bold" text-anchor="end" stroke="#000" stroke-width="0.4" textLength="11" lengthAdjust="spacingAndGlyphs">2.5</text>
<text x="43.4" y="600.3" font-family="'Liberation Serif','DejaVu Serif',serif" font-size="7.4" font-weight="bold" text-anchor="end" stroke="#000" stroke-width="0.4" textLength="11" lengthAdjust="spacingAndGlyphs">2.0</text>
<text x="43.4" y="611.3" font-family="'Liberation Serif','DejaVu Serif',serif" font-size="7.4" font-weight="bold" text-anchor="end" stroke="#000" stroke-width="0.4" textLength="11" lengthAdjust="spacingAndGlyphs">1.5</text>
<text x="43.4" y="622.3" font-family="'Liberation Serif','DejaVu Serif',serif" font-size="7.4" font-weight="bold" text-anchor="end" stroke="#000" stroke-width="0.4" textLength="11" lengthAdjust="spacingAndGlyphs">1.0</text>
<text x="44.15" y="637.6" font-family="'Liberation Serif','DejaVu Serif',serif" font-size="7.8" font-weight="bold" text-anchor="middle" stroke="#000" stroke-width="0.35" textLength="19.4" lengthAdjust="spacingAndGlyphs">&#8722;500</text>
<text x="93.4" y="637.6" font-family="'Liberation Serif','DejaVu Serif',serif" font-size="7.8" font-weight="bold" text-anchor="middle" stroke="#000" stroke-width="0.35" textLength="19.4" lengthAdjust="spacingAndGlyphs">&#8722;400</text>
<text x="142.65" y="637.6" font-family="'Liberation Serif','DejaVu Serif',serif" font-size="7.8" font-weight="bold" text-anchor="middle" stroke="#000" stroke-width="0.35" textLength="19.4" lengthAdjust="spacingAndGlyphs">&#8722;300</text>
<text x="191.9" y="637.6" font-family="'Liberation Serif','DejaVu Serif',serif" font-size="7.8" font-weight="bold" text-anchor="middle" stroke="#000" stroke-width="0.35" textLength="19.4" lengthAdjust="spacingAndGlyphs">&#8722;200</text>
<text x="241.15" y="637.6" font-family="'Liberation Serif','DejaVu Serif',serif" font-size="7.8" font-weight="bold" text-anchor="middle" stroke="#000" stroke-width="0.35" textLength="19.4" lengthAdjust="spacingAndGlyphs">&#8722;100</text>
<text x="291.7" y="637.6" font-family="'Liberation Serif','DejaVu Serif',serif" font-size="7.8" font-weight="bold" text-anchor="middle" stroke="#000" stroke-width="0.35" textLength="4.1" lengthAdjust="spacingAndGlyphs">0</text>
<text x="340.95" y="637.6" font-family="'Liberation Serif','DejaVu Serif',serif" font-size="7.8" font-weight="bold" text-anchor="middle" stroke="#000" stroke-width="0.35" textLength="13.2" lengthAdjust="spacingAndGlyphs">100</text>
<text x="390.2" y="637.6" font-family="'Liberation Serif','DejaVu Serif',serif" font-size="7.8" font-weight="bold" text-anchor="middle" stroke="#000" stroke-width="0.35" textLength="13.2" lengthAdjust="spacingAndGlyphs">200</text>
<text x="439.45" y="637.6" font-family="'Liberation Serif','DejaVu Serif',serif" font-size="7.8" font-weight="bold" text-anchor="middle" stroke="#000" stroke-width="0.35" textLength="13.2" lengthAdjust="spacingAndGlyphs">300</text>
<text x="488.7" y="637.6" font-family="'Liberation Serif','DejaVu Serif',serif" font-size="7.8" font-weight="bold" text-anchor="middle" stroke="#000" stroke-width="0.35" textLength="13.2" lengthAdjust="spacingAndGlyphs">400</text>
<text x="537.95" y="637.6" font-family="'Liberation Serif','DejaVu Serif',serif" font-size="7.8" font-weight="bold" text-anchor="middle" stroke="#000" stroke-width="0.35" textLength="13.2" lengthAdjust="spacingAndGlyphs">500</text>
<line x1="47.8" y1="444" x2="80" y2="444" stroke="#ff50f0" stroke-width="1.8"/>
<text x="83.2" y="447.7" font-family="'Liberation Serif','DejaVu Serif',serif" font-size="11.2" font-weight="bold" font-style="normal" fill="#111" text-anchor="start" stroke="#111" stroke-width="0.3">V</text>
<text x="93.1" y="453.2" font-family="'Liberation Serif','DejaVu Serif',serif" font-size="6.3" font-weight="bold" textLength="11.7" lengthAdjust="spacingAndGlyphs">DD</text>
<line x1="51" y1="504.2" x2="80" y2="504.2" stroke="#22b022" stroke-width="1.8"/>
<text x="83.2" y="508" font-family="'Liberation Serif','DejaVu Serif',serif" font-size="11.2" font-weight="bold" font-style="normal" fill="#111" text-anchor="start" stroke="#111" stroke-width="0.3">V</text>
<text x="93" y="512.4" font-family="'Liberation Serif','DejaVu Serif',serif" font-size="6.3" font-weight="bold" textLength="9" lengthAdjust="spacingAndGlyphs">TX</text>
<line x1="135.2" y1="504.3" x2="164.7" y2="504.3" stroke="#6464f0" stroke-width="1.8"/>
<text x="168" y="508" font-family="'Liberation Serif','DejaVu Serif',serif" font-size="11.2" font-weight="bold" font-style="normal" fill="#111" text-anchor="start" stroke="#111" stroke-width="0.3">V</text>
<text x="177.2" y="512.4" font-family="'Liberation Serif','DejaVu Serif',serif" font-size="6.3" font-weight="bold" textLength="10.2" lengthAdjust="spacingAndGlyphs">RX</text>
<line x1="100.1" y1="611.1" x2="121.1" y2="611.1" stroke="#000" stroke-width="1.8"/>
<text x="124" y="613.3" font-family="'Liberation Serif','DejaVu Serif',serif" font-size="7.4" font-weight="bold" textLength="41.3" lengthAdjust="spacingAndGlyphs">Dark state</text>
<line x1="100.1" y1="620.8" x2="121.1" y2="620.8" stroke="#ff2a2a" stroke-width="1.8"/>
<text x="124" y="623.2" font-family="'Liberation Serif','DejaVu Serif',serif" font-size="7.4" font-weight="bold" textLength="43" lengthAdjust="spacingAndGlyphs">Photo state</text>
<text x="118" y="540.4" font-family="'Liberation Sans','Noto Sans CJK KR',sans-serif" font-size="13.8" font-weight="bold" font-style="normal" fill="#ff2020" text-anchor="middle">(1)</text>
<text x="169" y="540.4" font-family="'Liberation Sans','Noto Sans CJK KR',sans-serif" font-size="13.8" font-weight="bold" font-style="normal" fill="#ff2020" text-anchor="middle">(2)</text>
<text x="217.8" y="540.4" font-family="'Liberation Sans','Noto Sans CJK KR',sans-serif" font-size="13.8" font-weight="bold" font-style="normal" fill="#ff2020" text-anchor="middle">(3)</text>
<text x="266.9" y="540.4" font-family="'Liberation Sans','Noto Sans CJK KR',sans-serif" font-size="13.8" font-weight="bold" font-style="normal" fill="#ff2020" text-anchor="middle">(4)</text>
<line x1="291.5" y1="609.9" x2="315.5" y2="609.9" stroke="#000" stroke-width="1.6"/>
<line x1="291.5" y1="622.3" x2="315.5" y2="622.3" stroke="#ff2a2a" stroke-width="1.6"/>
<line x1="303.3" y1="613" x2="303.3" y2="619.5" stroke="#ff2a2a" stroke-width="1.1"/>
<polygon points="303.3,611.2 301.5,614.2 305.1,614.2" fill="#ff2a2a"/>
<polygon points="303.3,621.3 301.5,618.3 305.1,618.3" fill="#ff2a2a"/>
<text x="316" y="619.3" font-family="'Liberation Serif','DejaVu Serif',serif" font-size="11.5" font-weight="normal" font-style="italic" fill="#111" text-anchor="start" stroke="#111" stroke-width="0.3">&#916;V</text>
<text x="331.8" y="622.2" font-family="'Liberation Serif','DejaVu Serif',serif" font-size="7.6" font-weight="bold" font-style="italic" textLength="38.2" lengthAdjust="spacingAndGlyphs">dark photo</text>
<text transform="translate(22.5,533.3) rotate(-90)" x="0" y="0" font-family="'Liberation Serif','DejaVu Serif',serif" font-size="16.3" font-weight="bold" text-anchor="middle" stroke="#000" stroke-width="0.3">Voltage [V]</text>
<text x="291.5" y="653.6" font-family="'Liberation Serif','DejaVu Serif',serif" font-size="15.4" font-weight="bold" text-anchor="middle" stroke="#000" stroke-width="0.3" textLength="91.7" lengthAdjust="spacingAndGlyphs">Time [&#956;sec]</text>
<rect x="326.5" y="421" width="31.3" height="16" fill="#fff"/>
<rect x="396.3" y="421" width="36.5" height="16" fill="#fff"/>
<rect x="449.2" y="421" width="28.3" height="16" fill="#fff"/>
<line x1="291.7" y1="420.5" x2="291.7" y2="438" stroke="#333" stroke-width="0.9"/>
<line x1="390.2" y1="420.5" x2="390.2" y2="438" stroke="#333" stroke-width="0.9"/>
<line x1="439.45" y1="420.5" x2="439.45" y2="438" stroke="#333" stroke-width="0.9"/>
<line x1="488.7" y1="420.5" x2="488.7" y2="438" stroke="#333" stroke-width="0.9"/>
<line x1="291.7" y1="428.5" x2="326.4" y2="428.5" stroke="#222" stroke-width="0.9"/>
<polygon points="291.7,428.5 296.7,426.5 296.7,430.5" fill="#222"/>
<line x1="358.3" y1="428.5" x2="390.2" y2="428.5" stroke="#222" stroke-width="0.9"/>
<polygon points="390.2,428.5 385.2,426.5 385.2,430.5" fill="#222"/>
<text x="342.3" y="431.8" font-family="'Liberation Serif','DejaVu Serif',serif" font-size="10.3" font-weight="bold" font-style="italic" fill="#111" text-anchor="middle" stroke="#111" stroke-width="0.3">Reset</text>
<line x1="390.2" y1="428.5" x2="395.5" y2="428.5" stroke="#222" stroke-width="0.9"/>
<polygon points="390.2,428.5 395.2,426.5 395.2,430.5" fill="#222"/>
<line x1="434" y1="428.5" x2="439.45" y2="428.5" stroke="#222" stroke-width="0.9"/>
<polygon points="439.45,428.5 434.45,426.5 434.45,430.5" fill="#222"/>
<text x="414.8" y="431.8" font-family="'Liberation Serif','DejaVu Serif',serif" font-size="10.3" font-weight="bold" font-style="italic" fill="#111" text-anchor="middle" stroke="#111" stroke-width="0.3">Transfer</text>
<line x1="439.45" y1="428.5" x2="448.7" y2="428.5" stroke="#222" stroke-width="0.9"/>
<polygon points="439.45,428.5 444.45,426.5 444.45,430.5" fill="#222"/>
<line x1="478" y1="428.5" x2="488.7" y2="428.5" stroke="#222" stroke-width="0.9"/>
<polygon points="488.7,428.5 483.7,426.5 483.7,430.5" fill="#222"/>
<text x="463.6" y="431.8" font-family="'Liberation Serif','DejaVu Serif',serif" font-size="10.3" font-weight="bold" font-style="italic" fill="#111" text-anchor="middle" stroke="#111" stroke-width="0.3">Read</text>
</svg></body></html>
